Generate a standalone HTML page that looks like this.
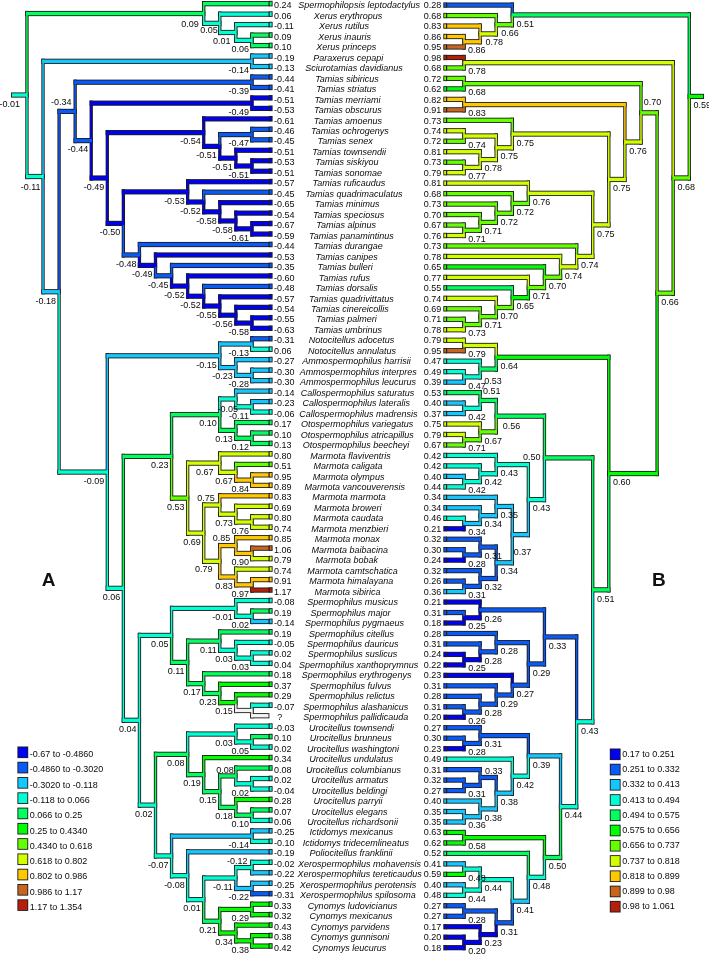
<!DOCTYPE html>
<html lang="en"><head><meta charset="utf-8"><title>Phylogeny trait reconstruction</title>
<style>html,body{margin:0;padding:0;background:#fff}svg{display:block}</style></head>
<body>
<svg width="709" height="956" viewBox="0 0 709 956" font-family="'Liberation Sans', Arial, sans-serif" font-size="9" fill="#0a0a0a">
<rect width="709" height="956" fill="#fff"/>
<g fill="#1c1c1c">
<rect x="250.28" y="32.51" width="3.3" height="7.84"/>
<rect x="250.28" y="32.51" width="19.12" height="5.2"/>
<rect x="268.8" y="32.21" width="3.8" height="5.6"/>
<rect x="250.28" y="40.35" width="3.3" height="7.84"/>
<rect x="250.28" y="42.98" width="19.12" height="5.2"/>
<rect x="268.8" y="42.68" width="3.8" height="5.6"/>
<rect x="234.21" y="22.04" width="3.3" height="10.45"/>
<rect x="234.21" y="22.04" width="35.19" height="5.2"/>
<rect x="268.8" y="21.74" width="3.8" height="5.6"/>
<rect x="234.21" y="32.5" width="3.3" height="10.45"/>
<rect x="234.21" y="37.75" width="19.37" height="5.2"/>
<rect x="218.14" y="11.57" width="3.3" height="11.76"/>
<rect x="218.14" y="11.57" width="51.26" height="5.2"/>
<rect x="268.8" y="11.27" width="3.8" height="5.6"/>
<rect x="218.14" y="23.33" width="3.3" height="11.76"/>
<rect x="218.14" y="29.9" width="19.37" height="5.2"/>
<rect x="202.07" y="1.1" width="3.3" height="12.42"/>
<rect x="202.07" y="1.1" width="67.33" height="5.2"/>
<rect x="268.8" y="0.8" width="3.8" height="5.6"/>
<rect x="202.07" y="13.52" width="3.3" height="12.42"/>
<rect x="202.07" y="20.73" width="19.37" height="5.2"/>
<rect x="250.28" y="53.46" width="3.3" height="7.84"/>
<rect x="250.28" y="53.46" width="19.12" height="5.2"/>
<rect x="268.8" y="53.16" width="3.8" height="5.6"/>
<rect x="250.28" y="61.29" width="3.3" height="7.84"/>
<rect x="250.28" y="63.93" width="19.12" height="5.2"/>
<rect x="268.8" y="63.63" width="3.8" height="5.6"/>
<rect x="250.28" y="74.4" width="3.3" height="7.84"/>
<rect x="250.28" y="74.4" width="19.12" height="5.2"/>
<rect x="268.8" y="74.1" width="3.8" height="5.6"/>
<rect x="250.28" y="82.23" width="3.3" height="7.84"/>
<rect x="250.28" y="84.87" width="19.12" height="5.2"/>
<rect x="268.8" y="84.57" width="3.8" height="5.6"/>
<rect x="250.28" y="95.34" width="3.3" height="7.84"/>
<rect x="250.28" y="95.34" width="19.12" height="5.2"/>
<rect x="268.8" y="95.04" width="3.8" height="5.6"/>
<rect x="250.28" y="103.17" width="3.3" height="7.84"/>
<rect x="250.28" y="105.81" width="19.12" height="5.2"/>
<rect x="268.8" y="105.51" width="3.8" height="5.6"/>
<rect x="250.28" y="126.75" width="3.3" height="7.84"/>
<rect x="250.28" y="126.75" width="19.12" height="5.2"/>
<rect x="268.8" y="126.45" width="3.8" height="5.6"/>
<rect x="250.28" y="134.59" width="3.3" height="7.84"/>
<rect x="250.28" y="137.22" width="19.12" height="5.2"/>
<rect x="268.8" y="136.92" width="3.8" height="5.6"/>
<rect x="250.28" y="158.16" width="3.3" height="7.84"/>
<rect x="250.28" y="158.16" width="19.12" height="5.2"/>
<rect x="268.8" y="157.86" width="3.8" height="5.6"/>
<rect x="250.28" y="166" width="3.3" height="7.84"/>
<rect x="250.28" y="168.64" width="19.12" height="5.2"/>
<rect x="268.8" y="168.34" width="3.8" height="5.6"/>
<rect x="234.21" y="147.69" width="3.3" height="10.45"/>
<rect x="234.21" y="147.69" width="35.19" height="5.2"/>
<rect x="268.8" y="147.39" width="3.8" height="5.6"/>
<rect x="234.21" y="158.15" width="3.3" height="10.45"/>
<rect x="234.21" y="163.4" width="19.37" height="5.2"/>
<rect x="218.14" y="131.99" width="3.3" height="14.38"/>
<rect x="218.14" y="131.99" width="35.44" height="5.2"/>
<rect x="218.14" y="146.37" width="3.3" height="14.38"/>
<rect x="218.14" y="155.55" width="19.37" height="5.2"/>
<rect x="202.07" y="116.28" width="3.3" height="16.34"/>
<rect x="202.07" y="116.28" width="67.33" height="5.2"/>
<rect x="268.8" y="115.98" width="3.8" height="5.6"/>
<rect x="202.07" y="132.62" width="3.3" height="16.34"/>
<rect x="202.07" y="143.77" width="19.37" height="5.2"/>
<rect x="250.28" y="220.99" width="3.3" height="7.84"/>
<rect x="250.28" y="220.99" width="19.12" height="5.2"/>
<rect x="268.8" y="220.69" width="3.8" height="5.6"/>
<rect x="250.28" y="228.83" width="3.3" height="7.84"/>
<rect x="250.28" y="231.46" width="19.12" height="5.2"/>
<rect x="268.8" y="231.16" width="3.8" height="5.6"/>
<rect x="234.21" y="210.52" width="3.3" height="10.45"/>
<rect x="234.21" y="210.52" width="35.19" height="5.2"/>
<rect x="268.8" y="210.22" width="3.8" height="5.6"/>
<rect x="234.21" y="220.97" width="3.3" height="10.45"/>
<rect x="234.21" y="226.23" width="19.37" height="5.2"/>
<rect x="218.14" y="200.05" width="3.3" height="11.76"/>
<rect x="218.14" y="200.05" width="51.26" height="5.2"/>
<rect x="268.8" y="199.75" width="3.8" height="5.6"/>
<rect x="218.14" y="211.81" width="3.3" height="11.76"/>
<rect x="218.14" y="218.37" width="19.37" height="5.2"/>
<rect x="202.07" y="189.58" width="3.3" height="12.42"/>
<rect x="202.07" y="189.58" width="67.33" height="5.2"/>
<rect x="268.8" y="189.28" width="3.8" height="5.6"/>
<rect x="202.07" y="201.99" width="3.3" height="12.42"/>
<rect x="202.07" y="209.21" width="19.37" height="5.2"/>
<rect x="186" y="179.11" width="3.3" height="12.74"/>
<rect x="186" y="179.11" width="83.4" height="5.2"/>
<rect x="268.8" y="178.81" width="3.8" height="5.6"/>
<rect x="186" y="191.85" width="3.3" height="12.74"/>
<rect x="186" y="199.39" width="19.37" height="5.2"/>
<rect x="250.28" y="315.23" width="3.3" height="7.84"/>
<rect x="250.28" y="315.23" width="19.12" height="5.2"/>
<rect x="268.8" y="314.93" width="3.8" height="5.6"/>
<rect x="250.28" y="323.07" width="3.3" height="7.84"/>
<rect x="250.28" y="325.7" width="19.12" height="5.2"/>
<rect x="268.8" y="325.4" width="3.8" height="5.6"/>
<rect x="234.21" y="304.76" width="3.3" height="10.45"/>
<rect x="234.21" y="304.76" width="35.19" height="5.2"/>
<rect x="268.8" y="304.46" width="3.8" height="5.6"/>
<rect x="234.21" y="315.21" width="3.3" height="10.45"/>
<rect x="234.21" y="320.47" width="19.37" height="5.2"/>
<rect x="218.14" y="294.29" width="3.3" height="11.76"/>
<rect x="218.14" y="294.29" width="51.26" height="5.2"/>
<rect x="268.8" y="293.99" width="3.8" height="5.6"/>
<rect x="218.14" y="306.05" width="3.3" height="11.76"/>
<rect x="218.14" y="312.61" width="19.37" height="5.2"/>
<rect x="202.07" y="283.82" width="3.3" height="12.42"/>
<rect x="202.07" y="283.82" width="67.33" height="5.2"/>
<rect x="268.8" y="283.52" width="3.8" height="5.6"/>
<rect x="202.07" y="296.23" width="3.3" height="12.42"/>
<rect x="202.07" y="303.45" width="19.37" height="5.2"/>
<rect x="186" y="273.35" width="3.3" height="12.74"/>
<rect x="186" y="273.35" width="83.4" height="5.2"/>
<rect x="268.8" y="273.05" width="3.8" height="5.6"/>
<rect x="186" y="286.09" width="3.3" height="12.74"/>
<rect x="186" y="293.63" width="19.37" height="5.2"/>
<rect x="169.93" y="262.87" width="3.3" height="12.91"/>
<rect x="169.93" y="262.87" width="99.47" height="5.2"/>
<rect x="268.8" y="262.57" width="3.8" height="5.6"/>
<rect x="169.93" y="275.78" width="3.3" height="12.91"/>
<rect x="169.93" y="283.49" width="19.37" height="5.2"/>
<rect x="153.86" y="252.4" width="3.3" height="12.99"/>
<rect x="153.86" y="252.4" width="115.54" height="5.2"/>
<rect x="268.8" y="252.1" width="3.8" height="5.6"/>
<rect x="153.86" y="265.39" width="3.3" height="12.99"/>
<rect x="153.86" y="273.18" width="19.37" height="5.2"/>
<rect x="137.79" y="241.93" width="3.3" height="13.03"/>
<rect x="137.79" y="241.93" width="131.61" height="5.2"/>
<rect x="268.8" y="241.63" width="3.8" height="5.6"/>
<rect x="137.79" y="254.96" width="3.3" height="13.03"/>
<rect x="137.79" y="262.79" width="19.37" height="5.2"/>
<rect x="121.72" y="189.25" width="3.3" height="34.16"/>
<rect x="121.72" y="189.25" width="67.58" height="5.2"/>
<rect x="121.72" y="223.41" width="3.3" height="34.16"/>
<rect x="121.72" y="252.36" width="19.37" height="5.2"/>
<rect x="105.65" y="130.02" width="3.3" height="47.99"/>
<rect x="105.65" y="130.02" width="99.72" height="5.2"/>
<rect x="105.65" y="178.02" width="3.3" height="47.99"/>
<rect x="105.65" y="220.81" width="19.37" height="5.2"/>
<rect x="89.58" y="100.57" width="3.3" height="40.02"/>
<rect x="89.58" y="100.57" width="164" height="5.2"/>
<rect x="89.58" y="140.6" width="3.3" height="40.02"/>
<rect x="89.58" y="175.42" width="19.37" height="5.2"/>
<rect x="73.51" y="79.63" width="3.3" height="31.78"/>
<rect x="73.51" y="79.63" width="180.07" height="5.2"/>
<rect x="73.51" y="111.41" width="3.3" height="31.78"/>
<rect x="73.51" y="138" width="19.37" height="5.2"/>
<rect x="250.28" y="336.17" width="3.3" height="7.84"/>
<rect x="250.28" y="336.17" width="19.12" height="5.2"/>
<rect x="268.8" y="335.87" width="3.8" height="5.6"/>
<rect x="250.28" y="344.01" width="3.3" height="7.84"/>
<rect x="250.28" y="346.64" width="19.12" height="5.2"/>
<rect x="268.8" y="346.34" width="3.8" height="5.6"/>
<rect x="250.28" y="367.58" width="3.3" height="7.84"/>
<rect x="250.28" y="367.58" width="19.12" height="5.2"/>
<rect x="268.8" y="367.28" width="3.8" height="5.6"/>
<rect x="250.28" y="375.42" width="3.3" height="7.84"/>
<rect x="250.28" y="378.06" width="19.12" height="5.2"/>
<rect x="268.8" y="377.76" width="3.8" height="5.6"/>
<rect x="234.21" y="357.11" width="3.3" height="10.45"/>
<rect x="234.21" y="357.11" width="35.19" height="5.2"/>
<rect x="268.8" y="356.81" width="3.8" height="5.6"/>
<rect x="234.21" y="367.57" width="3.3" height="10.45"/>
<rect x="234.21" y="372.82" width="19.37" height="5.2"/>
<rect x="218.14" y="341.41" width="3.3" height="14.38"/>
<rect x="218.14" y="341.41" width="35.44" height="5.2"/>
<rect x="218.14" y="355.79" width="3.3" height="14.38"/>
<rect x="218.14" y="364.97" width="19.37" height="5.2"/>
<rect x="250.28" y="399" width="3.3" height="7.84"/>
<rect x="250.28" y="399" width="19.12" height="5.2"/>
<rect x="268.8" y="398.7" width="3.8" height="5.6"/>
<rect x="250.28" y="406.83" width="3.3" height="7.84"/>
<rect x="250.28" y="409.47" width="19.12" height="5.2"/>
<rect x="268.8" y="409.17" width="3.8" height="5.6"/>
<rect x="234.21" y="388.53" width="3.3" height="10.45"/>
<rect x="234.21" y="388.53" width="35.19" height="5.2"/>
<rect x="268.8" y="388.23" width="3.8" height="5.6"/>
<rect x="234.21" y="398.98" width="3.3" height="10.45"/>
<rect x="234.21" y="404.23" width="19.37" height="5.2"/>
<rect x="250.28" y="430.41" width="3.3" height="7.84"/>
<rect x="250.28" y="430.41" width="19.12" height="5.2"/>
<rect x="268.8" y="430.11" width="3.8" height="5.6"/>
<rect x="250.28" y="438.25" width="3.3" height="7.84"/>
<rect x="250.28" y="440.88" width="19.12" height="5.2"/>
<rect x="268.8" y="440.58" width="3.8" height="5.6"/>
<rect x="234.21" y="419.94" width="3.3" height="10.45"/>
<rect x="234.21" y="419.94" width="35.19" height="5.2"/>
<rect x="268.8" y="419.64" width="3.8" height="5.6"/>
<rect x="234.21" y="430.39" width="3.3" height="10.45"/>
<rect x="234.21" y="435.65" width="19.37" height="5.2"/>
<rect x="218.14" y="396.38" width="3.3" height="18.31"/>
<rect x="218.14" y="396.38" width="19.37" height="5.2"/>
<rect x="218.14" y="414.69" width="3.3" height="18.31"/>
<rect x="218.14" y="427.79" width="19.37" height="5.2"/>
<rect x="250.28" y="472.29" width="3.3" height="7.84"/>
<rect x="250.28" y="472.29" width="19.12" height="5.2"/>
<rect x="268.8" y="471.99" width="3.8" height="5.6"/>
<rect x="250.28" y="480.13" width="3.3" height="7.84"/>
<rect x="250.28" y="482.77" width="19.12" height="5.2"/>
<rect x="268.8" y="482.47" width="3.8" height="5.6"/>
<rect x="234.21" y="461.82" width="3.3" height="10.45"/>
<rect x="234.21" y="461.82" width="35.19" height="5.2"/>
<rect x="268.8" y="461.52" width="3.8" height="5.6"/>
<rect x="234.21" y="472.28" width="3.3" height="10.45"/>
<rect x="234.21" y="477.53" width="19.37" height="5.2"/>
<rect x="218.14" y="451.35" width="3.3" height="11.76"/>
<rect x="218.14" y="451.35" width="51.26" height="5.2"/>
<rect x="268.8" y="451.05" width="3.8" height="5.6"/>
<rect x="218.14" y="463.12" width="3.3" height="11.76"/>
<rect x="218.14" y="469.68" width="19.37" height="5.2"/>
<rect x="250.28" y="514.18" width="3.3" height="7.84"/>
<rect x="250.28" y="514.18" width="19.12" height="5.2"/>
<rect x="268.8" y="513.88" width="3.8" height="5.6"/>
<rect x="250.28" y="522.01" width="3.3" height="7.84"/>
<rect x="250.28" y="524.65" width="19.12" height="5.2"/>
<rect x="268.8" y="524.35" width="3.8" height="5.6"/>
<rect x="234.21" y="503.71" width="3.3" height="10.45"/>
<rect x="234.21" y="503.71" width="35.19" height="5.2"/>
<rect x="268.8" y="503.41" width="3.8" height="5.6"/>
<rect x="234.21" y="514.16" width="3.3" height="10.45"/>
<rect x="234.21" y="519.41" width="19.37" height="5.2"/>
<rect x="218.14" y="493.24" width="3.3" height="11.76"/>
<rect x="218.14" y="493.24" width="51.26" height="5.2"/>
<rect x="268.8" y="492.94" width="3.8" height="5.6"/>
<rect x="218.14" y="505" width="3.3" height="11.76"/>
<rect x="218.14" y="511.56" width="19.37" height="5.2"/>
<rect x="250.28" y="545.59" width="3.3" height="7.84"/>
<rect x="250.28" y="545.59" width="19.12" height="5.2"/>
<rect x="268.8" y="545.29" width="3.8" height="5.6"/>
<rect x="250.28" y="553.43" width="3.3" height="7.84"/>
<rect x="250.28" y="556.06" width="19.12" height="5.2"/>
<rect x="268.8" y="555.76" width="3.8" height="5.6"/>
<rect x="234.21" y="535.12" width="3.3" height="10.45"/>
<rect x="234.21" y="535.12" width="35.19" height="5.2"/>
<rect x="268.8" y="534.82" width="3.8" height="5.6"/>
<rect x="234.21" y="545.57" width="3.3" height="10.45"/>
<rect x="234.21" y="550.83" width="19.37" height="5.2"/>
<rect x="250.28" y="577" width="3.3" height="7.84"/>
<rect x="250.28" y="577" width="19.12" height="5.2"/>
<rect x="268.8" y="576.71" width="3.8" height="5.6"/>
<rect x="250.28" y="584.84" width="3.3" height="7.84"/>
<rect x="250.28" y="587.48" width="19.12" height="5.2"/>
<rect x="268.8" y="587.18" width="3.8" height="5.6"/>
<rect x="234.21" y="566.53" width="3.3" height="10.45"/>
<rect x="234.21" y="566.53" width="35.19" height="5.2"/>
<rect x="268.8" y="566.23" width="3.8" height="5.6"/>
<rect x="234.21" y="576.99" width="3.3" height="10.45"/>
<rect x="234.21" y="582.24" width="19.37" height="5.2"/>
<rect x="218.14" y="542.97" width="3.3" height="18.31"/>
<rect x="218.14" y="542.97" width="19.37" height="5.2"/>
<rect x="218.14" y="561.28" width="3.3" height="18.31"/>
<rect x="218.14" y="574.39" width="19.37" height="5.2"/>
<rect x="202.07" y="502.4" width="3.3" height="30.74"/>
<rect x="202.07" y="502.4" width="19.37" height="5.2"/>
<rect x="202.07" y="533.14" width="3.3" height="30.74"/>
<rect x="202.07" y="558.68" width="19.37" height="5.2"/>
<rect x="186" y="460.52" width="3.3" height="37.61"/>
<rect x="186" y="460.52" width="35.44" height="5.2"/>
<rect x="186" y="498.13" width="3.3" height="37.61"/>
<rect x="186" y="530.54" width="19.37" height="5.2"/>
<rect x="169.93" y="412.09" width="3.3" height="44.32"/>
<rect x="169.93" y="412.09" width="51.51" height="5.2"/>
<rect x="169.93" y="456.41" width="3.3" height="44.32"/>
<rect x="169.93" y="495.53" width="19.37" height="5.2"/>
<rect x="250.28" y="608.42" width="3.3" height="7.84"/>
<rect x="250.28" y="608.42" width="19.12" height="5.2"/>
<rect x="268.8" y="608.12" width="3.8" height="5.6"/>
<rect x="250.28" y="616.25" width="3.3" height="7.84"/>
<rect x="250.28" y="618.89" width="19.12" height="5.2"/>
<rect x="268.8" y="618.59" width="3.8" height="5.6"/>
<rect x="234.21" y="597.95" width="3.3" height="10.45"/>
<rect x="234.21" y="597.95" width="35.19" height="5.2"/>
<rect x="268.8" y="597.65" width="3.8" height="5.6"/>
<rect x="234.21" y="608.4" width="3.3" height="10.45"/>
<rect x="234.21" y="613.65" width="19.37" height="5.2"/>
<rect x="250.28" y="650.3" width="3.3" height="7.84"/>
<rect x="250.28" y="650.3" width="19.12" height="5.2"/>
<rect x="268.8" y="650" width="3.8" height="5.6"/>
<rect x="250.28" y="658.14" width="3.3" height="7.84"/>
<rect x="250.28" y="660.77" width="19.12" height="5.2"/>
<rect x="268.8" y="660.47" width="3.8" height="5.6"/>
<rect x="234.21" y="639.83" width="3.3" height="10.45"/>
<rect x="234.21" y="639.83" width="35.19" height="5.2"/>
<rect x="268.8" y="639.53" width="3.8" height="5.6"/>
<rect x="234.21" y="650.28" width="3.3" height="10.45"/>
<rect x="234.21" y="655.54" width="19.37" height="5.2"/>
<rect x="218.14" y="629.36" width="3.3" height="11.76"/>
<rect x="218.14" y="629.36" width="51.26" height="5.2"/>
<rect x="268.8" y="629.06" width="3.8" height="5.6"/>
<rect x="218.14" y="641.12" width="3.3" height="11.76"/>
<rect x="218.14" y="647.68" width="19.37" height="5.2"/>
<rect x="250.28" y="702.66" width="3.3" height="7.84"/>
<rect x="250.28" y="702.66" width="19.12" height="5.2"/>
<rect x="268.8" y="702.36" width="3.8" height="5.6"/>
<rect x="250.28" y="710.49" width="3.3" height="7.84"/>
<rect x="250.28" y="713.13" width="19.12" height="5.2"/>
<rect x="234.21" y="692.19" width="3.3" height="10.45"/>
<rect x="234.21" y="692.19" width="35.19" height="5.2"/>
<rect x="268.8" y="691.89" width="3.8" height="5.6"/>
<rect x="234.21" y="702.64" width="3.3" height="10.45"/>
<rect x="234.21" y="707.89" width="19.37" height="5.2"/>
<rect x="218.14" y="681.72" width="3.3" height="11.76"/>
<rect x="218.14" y="681.72" width="51.26" height="5.2"/>
<rect x="268.8" y="681.42" width="3.8" height="5.6"/>
<rect x="218.14" y="693.48" width="3.3" height="11.76"/>
<rect x="218.14" y="700.04" width="19.37" height="5.2"/>
<rect x="202.07" y="671.24" width="3.3" height="12.42"/>
<rect x="202.07" y="671.24" width="67.33" height="5.2"/>
<rect x="268.8" y="670.94" width="3.8" height="5.6"/>
<rect x="202.07" y="683.66" width="3.3" height="12.42"/>
<rect x="202.07" y="690.88" width="19.37" height="5.2"/>
<rect x="186" y="638.52" width="3.3" height="23.87"/>
<rect x="186" y="638.52" width="35.44" height="5.2"/>
<rect x="186" y="662.39" width="3.3" height="23.87"/>
<rect x="186" y="681.06" width="19.37" height="5.2"/>
<rect x="169.93" y="605.8" width="3.3" height="29.6"/>
<rect x="169.93" y="605.8" width="67.58" height="5.2"/>
<rect x="169.93" y="635.4" width="3.3" height="29.6"/>
<rect x="169.93" y="659.79" width="19.37" height="5.2"/>
<rect x="250.28" y="734.07" width="3.3" height="7.84"/>
<rect x="250.28" y="734.07" width="19.12" height="5.2"/>
<rect x="268.8" y="733.77" width="3.8" height="5.6"/>
<rect x="250.28" y="741.91" width="3.3" height="7.84"/>
<rect x="250.28" y="744.54" width="19.12" height="5.2"/>
<rect x="268.8" y="744.24" width="3.8" height="5.6"/>
<rect x="234.21" y="723.6" width="3.3" height="10.45"/>
<rect x="234.21" y="723.6" width="35.19" height="5.2"/>
<rect x="268.8" y="723.3" width="3.8" height="5.6"/>
<rect x="234.21" y="734.05" width="3.3" height="10.45"/>
<rect x="234.21" y="739.31" width="19.37" height="5.2"/>
<rect x="250.28" y="775.95" width="3.3" height="7.84"/>
<rect x="250.28" y="775.95" width="19.12" height="5.2"/>
<rect x="268.8" y="775.65" width="3.8" height="5.6"/>
<rect x="250.28" y="783.79" width="3.3" height="7.84"/>
<rect x="250.28" y="786.43" width="19.12" height="5.2"/>
<rect x="268.8" y="786.13" width="3.8" height="5.6"/>
<rect x="234.21" y="765.48" width="3.3" height="10.45"/>
<rect x="234.21" y="765.48" width="35.19" height="5.2"/>
<rect x="268.8" y="765.18" width="3.8" height="5.6"/>
<rect x="234.21" y="775.94" width="3.3" height="10.45"/>
<rect x="234.21" y="781.19" width="19.37" height="5.2"/>
<rect x="250.28" y="807.37" width="3.3" height="7.84"/>
<rect x="250.28" y="807.37" width="19.12" height="5.2"/>
<rect x="268.8" y="807.07" width="3.8" height="5.6"/>
<rect x="250.28" y="815.2" width="3.3" height="7.84"/>
<rect x="250.28" y="817.84" width="19.12" height="5.2"/>
<rect x="268.8" y="817.54" width="3.8" height="5.6"/>
<rect x="234.21" y="796.9" width="3.3" height="10.45"/>
<rect x="234.21" y="796.9" width="35.19" height="5.2"/>
<rect x="268.8" y="796.6" width="3.8" height="5.6"/>
<rect x="234.21" y="807.35" width="3.3" height="10.45"/>
<rect x="234.21" y="812.6" width="19.37" height="5.2"/>
<rect x="218.14" y="773.34" width="3.3" height="18.31"/>
<rect x="218.14" y="773.34" width="19.37" height="5.2"/>
<rect x="218.14" y="791.64" width="3.3" height="18.31"/>
<rect x="218.14" y="804.75" width="19.37" height="5.2"/>
<rect x="202.07" y="755.01" width="3.3" height="19.62"/>
<rect x="202.07" y="755.01" width="67.33" height="5.2"/>
<rect x="268.8" y="754.71" width="3.8" height="5.6"/>
<rect x="202.07" y="774.63" width="3.3" height="19.62"/>
<rect x="202.07" y="789.04" width="19.37" height="5.2"/>
<rect x="186" y="731.45" width="3.3" height="22.89"/>
<rect x="186" y="731.45" width="51.51" height="5.2"/>
<rect x="186" y="754.34" width="3.3" height="22.89"/>
<rect x="186" y="772.03" width="19.37" height="5.2"/>
<rect x="250.28" y="828.31" width="3.3" height="7.84"/>
<rect x="250.28" y="828.31" width="19.12" height="5.2"/>
<rect x="268.8" y="828.01" width="3.8" height="5.6"/>
<rect x="250.28" y="836.14" width="3.3" height="7.84"/>
<rect x="250.28" y="838.78" width="19.12" height="5.2"/>
<rect x="268.8" y="838.48" width="3.8" height="5.6"/>
<rect x="250.28" y="859.72" width="3.3" height="7.84"/>
<rect x="250.28" y="859.72" width="19.12" height="5.2"/>
<rect x="268.8" y="859.42" width="3.8" height="5.6"/>
<rect x="250.28" y="867.56" width="3.3" height="7.84"/>
<rect x="250.28" y="870.19" width="19.12" height="5.2"/>
<rect x="268.8" y="869.89" width="3.8" height="5.6"/>
<rect x="250.28" y="880.66" width="3.3" height="7.84"/>
<rect x="250.28" y="880.66" width="19.12" height="5.2"/>
<rect x="268.8" y="880.36" width="3.8" height="5.6"/>
<rect x="250.28" y="888.5" width="3.3" height="7.84"/>
<rect x="250.28" y="891.13" width="19.12" height="5.2"/>
<rect x="268.8" y="890.84" width="3.8" height="5.6"/>
<rect x="234.21" y="864.96" width="3.3" height="13.07"/>
<rect x="234.21" y="864.96" width="19.37" height="5.2"/>
<rect x="234.21" y="878.03" width="3.3" height="13.07"/>
<rect x="234.21" y="885.9" width="19.37" height="5.2"/>
<rect x="250.28" y="901.61" width="3.3" height="7.84"/>
<rect x="250.28" y="901.61" width="19.12" height="5.2"/>
<rect x="268.8" y="901.31" width="3.8" height="5.6"/>
<rect x="250.28" y="909.44" width="3.3" height="7.84"/>
<rect x="250.28" y="912.08" width="19.12" height="5.2"/>
<rect x="268.8" y="911.78" width="3.8" height="5.6"/>
<rect x="250.28" y="933.02" width="3.3" height="7.84"/>
<rect x="250.28" y="933.02" width="19.12" height="5.2"/>
<rect x="268.8" y="932.72" width="3.8" height="5.6"/>
<rect x="250.28" y="940.85" width="3.3" height="7.84"/>
<rect x="250.28" y="943.49" width="19.12" height="5.2"/>
<rect x="268.8" y="943.19" width="3.8" height="5.6"/>
<rect x="234.21" y="922.55" width="3.3" height="10.45"/>
<rect x="234.21" y="922.55" width="35.19" height="5.2"/>
<rect x="268.8" y="922.25" width="3.8" height="5.6"/>
<rect x="234.21" y="933" width="3.3" height="10.45"/>
<rect x="234.21" y="938.25" width="19.37" height="5.2"/>
<rect x="218.14" y="906.84" width="3.3" height="14.38"/>
<rect x="218.14" y="906.84" width="35.44" height="5.2"/>
<rect x="218.14" y="921.22" width="3.3" height="14.38"/>
<rect x="218.14" y="930.4" width="19.37" height="5.2"/>
<rect x="202.07" y="875.43" width="3.3" height="24.2"/>
<rect x="202.07" y="875.43" width="35.44" height="5.2"/>
<rect x="202.07" y="899.62" width="3.3" height="24.2"/>
<rect x="202.07" y="918.62" width="19.37" height="5.2"/>
<rect x="186" y="849.25" width="3.3" height="26.49"/>
<rect x="186" y="849.25" width="83.4" height="5.2"/>
<rect x="268.8" y="848.95" width="3.8" height="5.6"/>
<rect x="186" y="875.74" width="3.3" height="26.49"/>
<rect x="186" y="897.02" width="19.37" height="5.2"/>
<rect x="169.93" y="833.54" width="3.3" height="22.4"/>
<rect x="169.93" y="833.54" width="83.65" height="5.2"/>
<rect x="169.93" y="855.94" width="3.3" height="22.4"/>
<rect x="169.93" y="873.14" width="19.37" height="5.2"/>
<rect x="153.86" y="751.74" width="3.3" height="53.4"/>
<rect x="153.86" y="751.74" width="35.44" height="5.2"/>
<rect x="153.86" y="805.14" width="3.3" height="53.4"/>
<rect x="153.86" y="853.34" width="19.37" height="5.2"/>
<rect x="137.79" y="632.8" width="3.3" height="87.47"/>
<rect x="137.79" y="632.8" width="35.44" height="5.2"/>
<rect x="137.79" y="720.27" width="3.3" height="87.47"/>
<rect x="137.79" y="802.54" width="19.37" height="5.2"/>
<rect x="121.72" y="453.81" width="3.3" height="134.53"/>
<rect x="121.72" y="453.81" width="51.51" height="5.2"/>
<rect x="121.72" y="588.34" width="3.3" height="134.53"/>
<rect x="121.72" y="717.67" width="19.37" height="5.2"/>
<rect x="105.65" y="353.19" width="3.3" height="118.88"/>
<rect x="105.65" y="353.19" width="115.79" height="5.2"/>
<rect x="105.65" y="472.06" width="3.3" height="118.88"/>
<rect x="105.65" y="585.74" width="19.37" height="5.2"/>
<rect x="57.44" y="108.81" width="3.3" height="182.92"/>
<rect x="57.44" y="108.81" width="19.37" height="5.2"/>
<rect x="57.44" y="291.74" width="3.3" height="182.92"/>
<rect x="57.44" y="469.46" width="51.51" height="5.2"/>
<rect x="41.37" y="58.69" width="3.3" height="117.82"/>
<rect x="41.37" y="58.69" width="212.21" height="5.2"/>
<rect x="41.37" y="176.51" width="3.3" height="117.82"/>
<rect x="41.37" y="289.14" width="19.37" height="5.2"/>
<rect x="25.3" y="10.92" width="3.3" height="84.1"/>
<rect x="25.3" y="10.92" width="180.07" height="5.2"/>
<rect x="25.3" y="95.02" width="3.3" height="84.1"/>
<rect x="25.3" y="173.91" width="19.37" height="5.2"/>
<rect x="11" y="92.42" width="17.6" height="5.2"/>
</g><g>
<rect x="251.18" y="33.41" width="1.5" height="6.04" fill="#00ff5f"/>
<rect x="251.18" y="33.41" width="17.32" height="3.4" fill="#00ff5f"/>
<rect x="269.7" y="33.11" width="2" height="3.8" fill="#00ff5f"/>
<rect x="251.18" y="41.25" width="1.5" height="6.04" fill="#00ff5f"/>
<rect x="251.18" y="43.88" width="17.32" height="3.4" fill="#00ff5f"/>
<rect x="269.7" y="43.58" width="2" height="3.8" fill="#00ff5f"/>
<rect x="235.11" y="22.94" width="1.5" height="8.65" fill="#00ffd2"/>
<rect x="235.11" y="22.94" width="33.39" height="3.4" fill="#00ffd2"/>
<rect x="269.7" y="22.64" width="2" height="3.8" fill="#00ffd2"/>
<rect x="235.11" y="33.4" width="1.5" height="8.65" fill="#00ffd2"/>
<rect x="235.11" y="38.65" width="17.57" height="3.4" fill="#00ffd2"/>
<rect x="219.04" y="12.47" width="1.5" height="9.96" fill="#00ffd2"/>
<rect x="219.04" y="12.47" width="49.46" height="3.4" fill="#00ffd2"/>
<rect x="269.7" y="12.17" width="2" height="3.8" fill="#00ffd2"/>
<rect x="219.04" y="24.23" width="1.5" height="9.96" fill="#00ffd2"/>
<rect x="219.04" y="30.8" width="17.57" height="3.4" fill="#00ffd2"/>
<rect x="202.97" y="2" width="1.5" height="10.62" fill="#00ff5f"/>
<rect x="202.97" y="2" width="65.53" height="3.4" fill="#00ff5f"/>
<rect x="269.7" y="1.7" width="2" height="3.8" fill="#00ff5f"/>
<rect x="202.97" y="14.42" width="1.5" height="10.62" fill="#00ffd2"/>
<rect x="202.97" y="21.63" width="17.57" height="3.4" fill="#00ffd2"/>
<rect x="251.18" y="54.36" width="1.5" height="6.04" fill="#14c8ff"/>
<rect x="251.18" y="54.36" width="17.32" height="3.4" fill="#14c8ff"/>
<rect x="269.7" y="54.06" width="2" height="3.8" fill="#14c8ff"/>
<rect x="251.18" y="62.19" width="1.5" height="6.04" fill="#14c8ff"/>
<rect x="251.18" y="64.83" width="17.32" height="3.4" fill="#14c8ff"/>
<rect x="269.7" y="64.53" width="2" height="3.8" fill="#14c8ff"/>
<rect x="251.18" y="75.3" width="1.5" height="6.04" fill="#0a5af8"/>
<rect x="251.18" y="75.3" width="17.32" height="3.4" fill="#0a5af8"/>
<rect x="269.7" y="75" width="2" height="3.8" fill="#0a5af8"/>
<rect x="251.18" y="83.13" width="1.5" height="6.04" fill="#0a5af8"/>
<rect x="251.18" y="85.77" width="17.32" height="3.4" fill="#0a5af8"/>
<rect x="269.7" y="85.47" width="2" height="3.8" fill="#0a5af8"/>
<rect x="251.18" y="96.24" width="1.5" height="6.04" fill="#0000f5"/>
<rect x="251.18" y="96.24" width="17.32" height="3.4" fill="#0000f5"/>
<rect x="269.7" y="95.94" width="2" height="3.8" fill="#0000f5"/>
<rect x="251.18" y="104.07" width="1.5" height="6.04" fill="#0000f5"/>
<rect x="251.18" y="106.71" width="17.32" height="3.4" fill="#0000f5"/>
<rect x="269.7" y="106.41" width="2" height="3.8" fill="#0000f5"/>
<rect x="251.18" y="127.65" width="1.5" height="6.04" fill="#0a5af8"/>
<rect x="251.18" y="127.65" width="17.32" height="3.4" fill="#0a5af8"/>
<rect x="269.7" y="127.35" width="2" height="3.8" fill="#0a5af8"/>
<rect x="251.18" y="135.49" width="1.5" height="6.04" fill="#0a5af8"/>
<rect x="251.18" y="138.12" width="17.32" height="3.4" fill="#0a5af8"/>
<rect x="269.7" y="137.82" width="2" height="3.8" fill="#0a5af8"/>
<rect x="251.18" y="159.06" width="1.5" height="6.04" fill="#0000f5"/>
<rect x="251.18" y="159.06" width="17.32" height="3.4" fill="#0000f5"/>
<rect x="269.7" y="158.76" width="2" height="3.8" fill="#0000f5"/>
<rect x="251.18" y="166.9" width="1.5" height="6.04" fill="#0000f5"/>
<rect x="251.18" y="169.54" width="17.32" height="3.4" fill="#0000f5"/>
<rect x="269.7" y="169.24" width="2" height="3.8" fill="#0000f5"/>
<rect x="235.11" y="148.59" width="1.5" height="8.65" fill="#0000f5"/>
<rect x="235.11" y="148.59" width="33.39" height="3.4" fill="#0000f5"/>
<rect x="269.7" y="148.29" width="2" height="3.8" fill="#0000f5"/>
<rect x="235.11" y="159.05" width="1.5" height="8.65" fill="#0000f5"/>
<rect x="235.11" y="164.3" width="17.57" height="3.4" fill="#0000f5"/>
<rect x="219.04" y="132.89" width="1.5" height="12.58" fill="#0a5af8"/>
<rect x="219.04" y="132.89" width="33.64" height="3.4" fill="#0a5af8"/>
<rect x="219.04" y="147.27" width="1.5" height="12.58" fill="#0000f5"/>
<rect x="219.04" y="156.45" width="17.57" height="3.4" fill="#0000f5"/>
<rect x="202.97" y="117.18" width="1.5" height="14.54" fill="#0000f5"/>
<rect x="202.97" y="117.18" width="65.53" height="3.4" fill="#0000f5"/>
<rect x="269.7" y="116.88" width="2" height="3.8" fill="#0000f5"/>
<rect x="202.97" y="133.52" width="1.5" height="14.54" fill="#0000f5"/>
<rect x="202.97" y="144.67" width="17.57" height="3.4" fill="#0000f5"/>
<rect x="251.18" y="221.89" width="1.5" height="6.04" fill="#0000f5"/>
<rect x="251.18" y="221.89" width="17.32" height="3.4" fill="#0000f5"/>
<rect x="269.7" y="221.59" width="2" height="3.8" fill="#0000f5"/>
<rect x="251.18" y="229.73" width="1.5" height="6.04" fill="#0000f5"/>
<rect x="251.18" y="232.36" width="17.32" height="3.4" fill="#0000f5"/>
<rect x="269.7" y="232.06" width="2" height="3.8" fill="#0000f5"/>
<rect x="235.11" y="211.42" width="1.5" height="8.65" fill="#0000f5"/>
<rect x="235.11" y="211.42" width="33.39" height="3.4" fill="#0000f5"/>
<rect x="269.7" y="211.12" width="2" height="3.8" fill="#0000f5"/>
<rect x="235.11" y="221.87" width="1.5" height="8.65" fill="#0000f5"/>
<rect x="235.11" y="227.13" width="17.57" height="3.4" fill="#0000f5"/>
<rect x="219.04" y="200.95" width="1.5" height="9.96" fill="#0000f5"/>
<rect x="219.04" y="200.95" width="49.46" height="3.4" fill="#0000f5"/>
<rect x="269.7" y="200.65" width="2" height="3.8" fill="#0000f5"/>
<rect x="219.04" y="212.71" width="1.5" height="9.96" fill="#0000f5"/>
<rect x="219.04" y="219.27" width="17.57" height="3.4" fill="#0000f5"/>
<rect x="202.97" y="190.48" width="1.5" height="10.62" fill="#0a5af8"/>
<rect x="202.97" y="190.48" width="65.53" height="3.4" fill="#0a5af8"/>
<rect x="269.7" y="190.18" width="2" height="3.8" fill="#0a5af8"/>
<rect x="202.97" y="202.89" width="1.5" height="10.62" fill="#0000f5"/>
<rect x="202.97" y="210.11" width="17.57" height="3.4" fill="#0000f5"/>
<rect x="186.9" y="180.01" width="1.5" height="10.94" fill="#0000f5"/>
<rect x="186.9" y="180.01" width="81.6" height="3.4" fill="#0000f5"/>
<rect x="269.7" y="179.71" width="2" height="3.8" fill="#0000f5"/>
<rect x="186.9" y="192.75" width="1.5" height="10.94" fill="#0000f5"/>
<rect x="186.9" y="200.29" width="17.57" height="3.4" fill="#0000f5"/>
<rect x="251.18" y="316.13" width="1.5" height="6.04" fill="#0000f5"/>
<rect x="251.18" y="316.13" width="17.32" height="3.4" fill="#0000f5"/>
<rect x="269.7" y="315.83" width="2" height="3.8" fill="#0000f5"/>
<rect x="251.18" y="323.97" width="1.5" height="6.04" fill="#0000f5"/>
<rect x="251.18" y="326.6" width="17.32" height="3.4" fill="#0000f5"/>
<rect x="269.7" y="326.3" width="2" height="3.8" fill="#0000f5"/>
<rect x="235.11" y="305.66" width="1.5" height="8.65" fill="#0000f5"/>
<rect x="235.11" y="305.66" width="33.39" height="3.4" fill="#0000f5"/>
<rect x="269.7" y="305.36" width="2" height="3.8" fill="#0000f5"/>
<rect x="235.11" y="316.11" width="1.5" height="8.65" fill="#0000f5"/>
<rect x="235.11" y="321.37" width="17.57" height="3.4" fill="#0000f5"/>
<rect x="219.04" y="295.19" width="1.5" height="9.96" fill="#0000f5"/>
<rect x="219.04" y="295.19" width="49.46" height="3.4" fill="#0000f5"/>
<rect x="269.7" y="294.89" width="2" height="3.8" fill="#0000f5"/>
<rect x="219.04" y="306.95" width="1.5" height="9.96" fill="#0000f5"/>
<rect x="219.04" y="313.51" width="17.57" height="3.4" fill="#0000f5"/>
<rect x="202.97" y="284.72" width="1.5" height="10.62" fill="#0a5af8"/>
<rect x="202.97" y="284.72" width="65.53" height="3.4" fill="#0a5af8"/>
<rect x="269.7" y="284.42" width="2" height="3.8" fill="#0a5af8"/>
<rect x="202.97" y="297.13" width="1.5" height="10.62" fill="#0000f5"/>
<rect x="202.97" y="304.35" width="17.57" height="3.4" fill="#0000f5"/>
<rect x="186.9" y="274.25" width="1.5" height="10.94" fill="#0000f5"/>
<rect x="186.9" y="274.25" width="81.6" height="3.4" fill="#0000f5"/>
<rect x="269.7" y="273.95" width="2" height="3.8" fill="#0000f5"/>
<rect x="186.9" y="286.99" width="1.5" height="10.94" fill="#0000f5"/>
<rect x="186.9" y="294.53" width="17.57" height="3.4" fill="#0000f5"/>
<rect x="170.83" y="263.77" width="1.5" height="11.11" fill="#0a5af8"/>
<rect x="170.83" y="263.77" width="97.67" height="3.4" fill="#0a5af8"/>
<rect x="269.7" y="263.47" width="2" height="3.8" fill="#0a5af8"/>
<rect x="170.83" y="276.68" width="1.5" height="11.11" fill="#0000f5"/>
<rect x="170.83" y="284.39" width="17.57" height="3.4" fill="#0000f5"/>
<rect x="154.76" y="253.3" width="1.5" height="11.19" fill="#0000f5"/>
<rect x="154.76" y="253.3" width="113.74" height="3.4" fill="#0000f5"/>
<rect x="269.7" y="253" width="2" height="3.8" fill="#0000f5"/>
<rect x="154.76" y="266.29" width="1.5" height="11.19" fill="#0a5af8"/>
<rect x="154.76" y="274.08" width="17.57" height="3.4" fill="#0a5af8"/>
<rect x="138.69" y="242.83" width="1.5" height="11.23" fill="#0a5af8"/>
<rect x="138.69" y="242.83" width="129.81" height="3.4" fill="#0a5af8"/>
<rect x="269.7" y="242.53" width="2" height="3.8" fill="#0a5af8"/>
<rect x="138.69" y="255.86" width="1.5" height="11.23" fill="#0000f5"/>
<rect x="138.69" y="263.69" width="17.57" height="3.4" fill="#0000f5"/>
<rect x="122.62" y="190.15" width="1.5" height="32.36" fill="#0000f5"/>
<rect x="122.62" y="190.15" width="65.78" height="3.4" fill="#0000f5"/>
<rect x="122.62" y="224.31" width="1.5" height="32.36" fill="#0a5af8"/>
<rect x="122.62" y="253.26" width="17.57" height="3.4" fill="#0a5af8"/>
<rect x="106.55" y="130.92" width="1.5" height="46.19" fill="#0000f5"/>
<rect x="106.55" y="130.92" width="97.92" height="3.4" fill="#0000f5"/>
<rect x="106.55" y="178.92" width="1.5" height="46.19" fill="#0000f5"/>
<rect x="106.55" y="221.71" width="17.57" height="3.4" fill="#0000f5"/>
<rect x="90.48" y="101.47" width="1.5" height="38.22" fill="#0000f5"/>
<rect x="90.48" y="101.47" width="162.2" height="3.4" fill="#0000f5"/>
<rect x="90.48" y="141.5" width="1.5" height="38.22" fill="#0000f5"/>
<rect x="90.48" y="176.32" width="17.57" height="3.4" fill="#0000f5"/>
<rect x="74.41" y="80.53" width="1.5" height="29.98" fill="#0a5af8"/>
<rect x="74.41" y="80.53" width="178.27" height="3.4" fill="#0a5af8"/>
<rect x="74.41" y="112.31" width="1.5" height="29.98" fill="#0a5af8"/>
<rect x="74.41" y="138.9" width="17.57" height="3.4" fill="#0a5af8"/>
<rect x="251.18" y="337.07" width="1.5" height="6.04" fill="#0a5af8"/>
<rect x="251.18" y="337.07" width="17.32" height="3.4" fill="#0a5af8"/>
<rect x="269.7" y="336.77" width="2" height="3.8" fill="#0a5af8"/>
<rect x="251.18" y="344.91" width="1.5" height="6.04" fill="#00ffd2"/>
<rect x="251.18" y="347.54" width="17.32" height="3.4" fill="#00ffd2"/>
<rect x="269.7" y="347.24" width="2" height="3.8" fill="#00ffd2"/>
<rect x="251.18" y="368.48" width="1.5" height="6.04" fill="#14c8ff"/>
<rect x="251.18" y="368.48" width="17.32" height="3.4" fill="#14c8ff"/>
<rect x="269.7" y="368.18" width="2" height="3.8" fill="#14c8ff"/>
<rect x="251.18" y="376.32" width="1.5" height="6.04" fill="#14c8ff"/>
<rect x="251.18" y="378.96" width="17.32" height="3.4" fill="#14c8ff"/>
<rect x="269.7" y="378.66" width="2" height="3.8" fill="#14c8ff"/>
<rect x="235.11" y="358.01" width="1.5" height="8.65" fill="#14c8ff"/>
<rect x="235.11" y="358.01" width="33.39" height="3.4" fill="#14c8ff"/>
<rect x="269.7" y="357.71" width="2" height="3.8" fill="#14c8ff"/>
<rect x="235.11" y="368.47" width="1.5" height="8.65" fill="#14c8ff"/>
<rect x="235.11" y="373.72" width="17.57" height="3.4" fill="#14c8ff"/>
<rect x="219.04" y="342.31" width="1.5" height="12.58" fill="#14c8ff"/>
<rect x="219.04" y="342.31" width="33.64" height="3.4" fill="#14c8ff"/>
<rect x="219.04" y="356.69" width="1.5" height="12.58" fill="#14c8ff"/>
<rect x="219.04" y="365.87" width="17.57" height="3.4" fill="#14c8ff"/>
<rect x="251.18" y="399.9" width="1.5" height="6.04" fill="#14c8ff"/>
<rect x="251.18" y="399.9" width="17.32" height="3.4" fill="#14c8ff"/>
<rect x="269.7" y="399.6" width="2" height="3.8" fill="#14c8ff"/>
<rect x="251.18" y="407.73" width="1.5" height="6.04" fill="#00ffd2"/>
<rect x="251.18" y="410.37" width="17.32" height="3.4" fill="#00ffd2"/>
<rect x="269.7" y="410.07" width="2" height="3.8" fill="#00ffd2"/>
<rect x="235.11" y="389.43" width="1.5" height="8.65" fill="#14c8ff"/>
<rect x="235.11" y="389.43" width="33.39" height="3.4" fill="#14c8ff"/>
<rect x="269.7" y="389.13" width="2" height="3.8" fill="#14c8ff"/>
<rect x="235.11" y="399.88" width="1.5" height="8.65" fill="#00ffd2"/>
<rect x="235.11" y="405.13" width="17.57" height="3.4" fill="#00ffd2"/>
<rect x="251.18" y="431.31" width="1.5" height="6.04" fill="#00ff5f"/>
<rect x="251.18" y="431.31" width="17.32" height="3.4" fill="#00ff5f"/>
<rect x="269.7" y="431.01" width="2" height="3.8" fill="#00ff5f"/>
<rect x="251.18" y="439.15" width="1.5" height="6.04" fill="#00ff5f"/>
<rect x="251.18" y="441.78" width="17.32" height="3.4" fill="#00ff5f"/>
<rect x="269.7" y="441.48" width="2" height="3.8" fill="#00ff5f"/>
<rect x="235.11" y="420.84" width="1.5" height="8.65" fill="#00ff5f"/>
<rect x="235.11" y="420.84" width="33.39" height="3.4" fill="#00ff5f"/>
<rect x="269.7" y="420.54" width="2" height="3.8" fill="#00ff5f"/>
<rect x="235.11" y="431.29" width="1.5" height="8.65" fill="#00ff5f"/>
<rect x="235.11" y="436.55" width="17.57" height="3.4" fill="#00ff5f"/>
<rect x="219.04" y="397.28" width="1.5" height="16.51" fill="#00ffd2"/>
<rect x="219.04" y="397.28" width="17.57" height="3.4" fill="#00ffd2"/>
<rect x="219.04" y="415.59" width="1.5" height="16.51" fill="#00ff5f"/>
<rect x="219.04" y="428.69" width="17.57" height="3.4" fill="#00ff5f"/>
<rect x="251.18" y="473.19" width="1.5" height="6.04" fill="#ffc800"/>
<rect x="251.18" y="473.19" width="17.32" height="3.4" fill="#ffc800"/>
<rect x="269.7" y="472.89" width="2" height="3.8" fill="#ffc800"/>
<rect x="251.18" y="481.03" width="1.5" height="6.04" fill="#ffc800"/>
<rect x="251.18" y="483.67" width="17.32" height="3.4" fill="#ffc800"/>
<rect x="269.7" y="483.37" width="2" height="3.8" fill="#ffc800"/>
<rect x="235.11" y="462.72" width="1.5" height="8.65" fill="#64ff00"/>
<rect x="235.11" y="462.72" width="33.39" height="3.4" fill="#64ff00"/>
<rect x="269.7" y="462.42" width="2" height="3.8" fill="#64ff00"/>
<rect x="235.11" y="473.18" width="1.5" height="8.65" fill="#ffc800"/>
<rect x="235.11" y="478.43" width="17.57" height="3.4" fill="#ffc800"/>
<rect x="219.04" y="452.25" width="1.5" height="9.96" fill="#d2ff00"/>
<rect x="219.04" y="452.25" width="49.46" height="3.4" fill="#d2ff00"/>
<rect x="269.7" y="451.95" width="2" height="3.8" fill="#d2ff00"/>
<rect x="219.04" y="464.02" width="1.5" height="9.96" fill="#d2ff00"/>
<rect x="219.04" y="470.58" width="17.57" height="3.4" fill="#d2ff00"/>
<rect x="251.18" y="515.08" width="1.5" height="6.04" fill="#d2ff00"/>
<rect x="251.18" y="515.08" width="17.32" height="3.4" fill="#d2ff00"/>
<rect x="269.7" y="514.78" width="2" height="3.8" fill="#d2ff00"/>
<rect x="251.18" y="522.91" width="1.5" height="6.04" fill="#d2ff00"/>
<rect x="251.18" y="525.55" width="17.32" height="3.4" fill="#d2ff00"/>
<rect x="269.7" y="525.25" width="2" height="3.8" fill="#d2ff00"/>
<rect x="235.11" y="504.61" width="1.5" height="8.65" fill="#d2ff00"/>
<rect x="235.11" y="504.61" width="33.39" height="3.4" fill="#d2ff00"/>
<rect x="269.7" y="504.31" width="2" height="3.8" fill="#d2ff00"/>
<rect x="235.11" y="515.06" width="1.5" height="8.65" fill="#d2ff00"/>
<rect x="235.11" y="520.31" width="17.57" height="3.4" fill="#d2ff00"/>
<rect x="219.04" y="494.14" width="1.5" height="9.96" fill="#ffc800"/>
<rect x="219.04" y="494.14" width="49.46" height="3.4" fill="#ffc800"/>
<rect x="269.7" y="493.84" width="2" height="3.8" fill="#ffc800"/>
<rect x="219.04" y="505.9" width="1.5" height="9.96" fill="#d2ff00"/>
<rect x="219.04" y="512.46" width="17.57" height="3.4" fill="#d2ff00"/>
<rect x="251.18" y="546.49" width="1.5" height="6.04" fill="#c8641e"/>
<rect x="251.18" y="546.49" width="17.32" height="3.4" fill="#c8641e"/>
<rect x="269.7" y="546.19" width="2" height="3.8" fill="#c8641e"/>
<rect x="251.18" y="554.33" width="1.5" height="6.04" fill="#d2ff00"/>
<rect x="251.18" y="556.96" width="17.32" height="3.4" fill="#d2ff00"/>
<rect x="269.7" y="556.66" width="2" height="3.8" fill="#d2ff00"/>
<rect x="235.11" y="536.02" width="1.5" height="8.65" fill="#ffc800"/>
<rect x="235.11" y="536.02" width="33.39" height="3.4" fill="#ffc800"/>
<rect x="269.7" y="535.72" width="2" height="3.8" fill="#ffc800"/>
<rect x="235.11" y="546.47" width="1.5" height="8.65" fill="#ffc800"/>
<rect x="235.11" y="551.73" width="17.57" height="3.4" fill="#ffc800"/>
<rect x="251.18" y="577.9" width="1.5" height="6.04" fill="#ffc800"/>
<rect x="251.18" y="577.9" width="17.32" height="3.4" fill="#ffc800"/>
<rect x="269.7" y="577.61" width="2" height="3.8" fill="#ffc800"/>
<rect x="251.18" y="585.74" width="1.5" height="6.04" fill="#b41e0a"/>
<rect x="251.18" y="588.38" width="17.32" height="3.4" fill="#b41e0a"/>
<rect x="269.7" y="588.08" width="2" height="3.8" fill="#b41e0a"/>
<rect x="235.11" y="567.43" width="1.5" height="8.65" fill="#d2ff00"/>
<rect x="235.11" y="567.43" width="33.39" height="3.4" fill="#d2ff00"/>
<rect x="269.7" y="567.13" width="2" height="3.8" fill="#d2ff00"/>
<rect x="235.11" y="577.89" width="1.5" height="8.65" fill="#ffc800"/>
<rect x="235.11" y="583.14" width="17.57" height="3.4" fill="#ffc800"/>
<rect x="219.04" y="543.87" width="1.5" height="16.51" fill="#ffc800"/>
<rect x="219.04" y="543.87" width="17.57" height="3.4" fill="#ffc800"/>
<rect x="219.04" y="562.18" width="1.5" height="16.51" fill="#ffc800"/>
<rect x="219.04" y="575.29" width="17.57" height="3.4" fill="#ffc800"/>
<rect x="202.97" y="503.3" width="1.5" height="28.94" fill="#d2ff00"/>
<rect x="202.97" y="503.3" width="17.57" height="3.4" fill="#d2ff00"/>
<rect x="202.97" y="534.04" width="1.5" height="28.94" fill="#d2ff00"/>
<rect x="202.97" y="559.58" width="17.57" height="3.4" fill="#d2ff00"/>
<rect x="186.9" y="461.42" width="1.5" height="35.81" fill="#d2ff00"/>
<rect x="186.9" y="461.42" width="33.64" height="3.4" fill="#d2ff00"/>
<rect x="186.9" y="499.03" width="1.5" height="35.81" fill="#d2ff00"/>
<rect x="186.9" y="531.44" width="17.57" height="3.4" fill="#d2ff00"/>
<rect x="170.83" y="412.99" width="1.5" height="42.52" fill="#00ff5f"/>
<rect x="170.83" y="412.99" width="49.71" height="3.4" fill="#00ff5f"/>
<rect x="170.83" y="457.31" width="1.5" height="42.52" fill="#64ff00"/>
<rect x="170.83" y="496.43" width="17.57" height="3.4" fill="#64ff00"/>
<rect x="251.18" y="609.32" width="1.5" height="6.04" fill="#00ff5f"/>
<rect x="251.18" y="609.32" width="17.32" height="3.4" fill="#00ff5f"/>
<rect x="269.7" y="609.02" width="2" height="3.8" fill="#00ff5f"/>
<rect x="251.18" y="617.15" width="1.5" height="6.04" fill="#14c8ff"/>
<rect x="251.18" y="619.79" width="17.32" height="3.4" fill="#14c8ff"/>
<rect x="269.7" y="619.49" width="2" height="3.8" fill="#14c8ff"/>
<rect x="235.11" y="598.85" width="1.5" height="8.65" fill="#00ffd2"/>
<rect x="235.11" y="598.85" width="33.39" height="3.4" fill="#00ffd2"/>
<rect x="269.7" y="598.55" width="2" height="3.8" fill="#00ffd2"/>
<rect x="235.11" y="609.3" width="1.5" height="8.65" fill="#00ffd2"/>
<rect x="235.11" y="614.55" width="17.57" height="3.4" fill="#00ffd2"/>
<rect x="251.18" y="651.2" width="1.5" height="6.04" fill="#00ffd2"/>
<rect x="251.18" y="651.2" width="17.32" height="3.4" fill="#00ffd2"/>
<rect x="269.7" y="650.9" width="2" height="3.8" fill="#00ffd2"/>
<rect x="251.18" y="659.04" width="1.5" height="6.04" fill="#00ffd2"/>
<rect x="251.18" y="661.67" width="17.32" height="3.4" fill="#00ffd2"/>
<rect x="269.7" y="661.37" width="2" height="3.8" fill="#00ffd2"/>
<rect x="235.11" y="640.73" width="1.5" height="8.65" fill="#00ffd2"/>
<rect x="235.11" y="640.73" width="33.39" height="3.4" fill="#00ffd2"/>
<rect x="269.7" y="640.43" width="2" height="3.8" fill="#00ffd2"/>
<rect x="235.11" y="651.18" width="1.5" height="8.65" fill="#00ffd2"/>
<rect x="235.11" y="656.44" width="17.57" height="3.4" fill="#00ffd2"/>
<rect x="219.04" y="630.26" width="1.5" height="9.96" fill="#00ff5f"/>
<rect x="219.04" y="630.26" width="49.46" height="3.4" fill="#00ff5f"/>
<rect x="269.7" y="629.96" width="2" height="3.8" fill="#00ff5f"/>
<rect x="219.04" y="642.02" width="1.5" height="9.96" fill="#00ffd2"/>
<rect x="219.04" y="648.58" width="17.57" height="3.4" fill="#00ffd2"/>
<rect x="251.18" y="703.56" width="1.5" height="6.04" fill="#00ffd2"/>
<rect x="251.18" y="703.56" width="17.32" height="3.4" fill="#00ffd2"/>
<rect x="269.7" y="703.26" width="2" height="3.8" fill="#00ffd2"/>
<rect x="251.18" y="711.39" width="1.5" height="6.04" fill="#f4f4f4"/>
<rect x="251.18" y="714.03" width="17.32" height="3.4" fill="#f4f4f4"/>
<rect x="235.11" y="693.09" width="1.5" height="8.65" fill="#00ff00"/>
<rect x="235.11" y="693.09" width="33.39" height="3.4" fill="#00ff00"/>
<rect x="269.7" y="692.79" width="2" height="3.8" fill="#00ff00"/>
<rect x="235.11" y="703.54" width="1.5" height="8.65" fill="#f4f4f4"/>
<rect x="235.11" y="708.79" width="17.57" height="3.4" fill="#f4f4f4"/>
<rect x="219.04" y="682.62" width="1.5" height="9.96" fill="#00ff00"/>
<rect x="219.04" y="682.62" width="49.46" height="3.4" fill="#00ff00"/>
<rect x="269.7" y="682.32" width="2" height="3.8" fill="#00ff00"/>
<rect x="219.04" y="694.38" width="1.5" height="9.96" fill="#00ff00"/>
<rect x="219.04" y="700.94" width="17.57" height="3.4" fill="#00ff00"/>
<rect x="202.97" y="672.14" width="1.5" height="10.62" fill="#00ff5f"/>
<rect x="202.97" y="672.14" width="65.53" height="3.4" fill="#00ff5f"/>
<rect x="269.7" y="671.84" width="2" height="3.8" fill="#00ff5f"/>
<rect x="202.97" y="684.56" width="1.5" height="10.62" fill="#00ff5f"/>
<rect x="202.97" y="691.78" width="17.57" height="3.4" fill="#00ff5f"/>
<rect x="186.9" y="639.42" width="1.5" height="22.07" fill="#00ff5f"/>
<rect x="186.9" y="639.42" width="33.64" height="3.4" fill="#00ff5f"/>
<rect x="186.9" y="663.29" width="1.5" height="22.07" fill="#00ff5f"/>
<rect x="186.9" y="681.96" width="17.57" height="3.4" fill="#00ff5f"/>
<rect x="170.83" y="606.7" width="1.5" height="27.8" fill="#00ffd2"/>
<rect x="170.83" y="606.7" width="65.78" height="3.4" fill="#00ffd2"/>
<rect x="170.83" y="636.3" width="1.5" height="27.8" fill="#00ff5f"/>
<rect x="170.83" y="660.69" width="17.57" height="3.4" fill="#00ff5f"/>
<rect x="251.18" y="734.97" width="1.5" height="6.04" fill="#00ff5f"/>
<rect x="251.18" y="734.97" width="17.32" height="3.4" fill="#00ff5f"/>
<rect x="269.7" y="734.67" width="2" height="3.8" fill="#00ff5f"/>
<rect x="251.18" y="742.81" width="1.5" height="6.04" fill="#00ffd2"/>
<rect x="251.18" y="745.44" width="17.32" height="3.4" fill="#00ffd2"/>
<rect x="269.7" y="745.14" width="2" height="3.8" fill="#00ffd2"/>
<rect x="235.11" y="724.5" width="1.5" height="8.65" fill="#00ffd2"/>
<rect x="235.11" y="724.5" width="33.39" height="3.4" fill="#00ffd2"/>
<rect x="269.7" y="724.2" width="2" height="3.8" fill="#00ffd2"/>
<rect x="235.11" y="734.95" width="1.5" height="8.65" fill="#00ffd2"/>
<rect x="235.11" y="740.21" width="17.57" height="3.4" fill="#00ffd2"/>
<rect x="251.18" y="776.85" width="1.5" height="6.04" fill="#00ffd2"/>
<rect x="251.18" y="776.85" width="17.32" height="3.4" fill="#00ffd2"/>
<rect x="269.7" y="776.55" width="2" height="3.8" fill="#00ffd2"/>
<rect x="251.18" y="784.69" width="1.5" height="6.04" fill="#00ffd2"/>
<rect x="251.18" y="787.33" width="17.32" height="3.4" fill="#00ffd2"/>
<rect x="269.7" y="787.03" width="2" height="3.8" fill="#00ffd2"/>
<rect x="235.11" y="766.38" width="1.5" height="8.65" fill="#00ff5f"/>
<rect x="235.11" y="766.38" width="33.39" height="3.4" fill="#00ff5f"/>
<rect x="269.7" y="766.08" width="2" height="3.8" fill="#00ff5f"/>
<rect x="235.11" y="776.84" width="1.5" height="8.65" fill="#00ffd2"/>
<rect x="235.11" y="782.09" width="17.57" height="3.4" fill="#00ffd2"/>
<rect x="251.18" y="808.27" width="1.5" height="6.04" fill="#00ff5f"/>
<rect x="251.18" y="808.27" width="17.32" height="3.4" fill="#00ff5f"/>
<rect x="269.7" y="807.97" width="2" height="3.8" fill="#00ff5f"/>
<rect x="251.18" y="816.1" width="1.5" height="6.04" fill="#00ffd2"/>
<rect x="251.18" y="818.74" width="17.32" height="3.4" fill="#00ffd2"/>
<rect x="269.7" y="818.44" width="2" height="3.8" fill="#00ffd2"/>
<rect x="235.11" y="797.8" width="1.5" height="8.65" fill="#00ff00"/>
<rect x="235.11" y="797.8" width="33.39" height="3.4" fill="#00ff00"/>
<rect x="269.7" y="797.5" width="2" height="3.8" fill="#00ff00"/>
<rect x="235.11" y="808.25" width="1.5" height="8.65" fill="#00ff5f"/>
<rect x="235.11" y="813.5" width="17.57" height="3.4" fill="#00ff5f"/>
<rect x="219.04" y="774.24" width="1.5" height="16.51" fill="#00ff5f"/>
<rect x="219.04" y="774.24" width="17.57" height="3.4" fill="#00ff5f"/>
<rect x="219.04" y="792.54" width="1.5" height="16.51" fill="#00ff5f"/>
<rect x="219.04" y="805.65" width="17.57" height="3.4" fill="#00ff5f"/>
<rect x="202.97" y="755.91" width="1.5" height="17.82" fill="#00ff00"/>
<rect x="202.97" y="755.91" width="65.53" height="3.4" fill="#00ff00"/>
<rect x="269.7" y="755.61" width="2" height="3.8" fill="#00ff00"/>
<rect x="202.97" y="775.53" width="1.5" height="17.82" fill="#00ff5f"/>
<rect x="202.97" y="789.94" width="17.57" height="3.4" fill="#00ff5f"/>
<rect x="186.9" y="732.35" width="1.5" height="21.09" fill="#00ffd2"/>
<rect x="186.9" y="732.35" width="49.71" height="3.4" fill="#00ffd2"/>
<rect x="186.9" y="755.24" width="1.5" height="21.09" fill="#00ff5f"/>
<rect x="186.9" y="772.93" width="17.57" height="3.4" fill="#00ff5f"/>
<rect x="251.18" y="829.21" width="1.5" height="6.04" fill="#14c8ff"/>
<rect x="251.18" y="829.21" width="17.32" height="3.4" fill="#14c8ff"/>
<rect x="269.7" y="828.91" width="2" height="3.8" fill="#14c8ff"/>
<rect x="251.18" y="837.04" width="1.5" height="6.04" fill="#00ffd2"/>
<rect x="251.18" y="839.68" width="17.32" height="3.4" fill="#00ffd2"/>
<rect x="269.7" y="839.38" width="2" height="3.8" fill="#00ffd2"/>
<rect x="251.18" y="860.62" width="1.5" height="6.04" fill="#00ffd2"/>
<rect x="251.18" y="860.62" width="17.32" height="3.4" fill="#00ffd2"/>
<rect x="269.7" y="860.32" width="2" height="3.8" fill="#00ffd2"/>
<rect x="251.18" y="868.46" width="1.5" height="6.04" fill="#14c8ff"/>
<rect x="251.18" y="871.09" width="17.32" height="3.4" fill="#14c8ff"/>
<rect x="269.7" y="870.79" width="2" height="3.8" fill="#14c8ff"/>
<rect x="251.18" y="881.56" width="1.5" height="6.04" fill="#14c8ff"/>
<rect x="251.18" y="881.56" width="17.32" height="3.4" fill="#14c8ff"/>
<rect x="269.7" y="881.26" width="2" height="3.8" fill="#14c8ff"/>
<rect x="251.18" y="889.4" width="1.5" height="6.04" fill="#0a5af8"/>
<rect x="251.18" y="892.03" width="17.32" height="3.4" fill="#0a5af8"/>
<rect x="269.7" y="891.74" width="2" height="3.8" fill="#0a5af8"/>
<rect x="235.11" y="865.86" width="1.5" height="11.27" fill="#00ffd2"/>
<rect x="235.11" y="865.86" width="17.57" height="3.4" fill="#00ffd2"/>
<rect x="235.11" y="878.93" width="1.5" height="11.27" fill="#14c8ff"/>
<rect x="235.11" y="886.8" width="17.57" height="3.4" fill="#14c8ff"/>
<rect x="251.18" y="902.51" width="1.5" height="6.04" fill="#00ff00"/>
<rect x="251.18" y="902.51" width="17.32" height="3.4" fill="#00ff00"/>
<rect x="269.7" y="902.21" width="2" height="3.8" fill="#00ff00"/>
<rect x="251.18" y="910.34" width="1.5" height="6.04" fill="#00ff00"/>
<rect x="251.18" y="912.98" width="17.32" height="3.4" fill="#00ff00"/>
<rect x="269.7" y="912.68" width="2" height="3.8" fill="#00ff00"/>
<rect x="251.18" y="933.92" width="1.5" height="6.04" fill="#00ff00"/>
<rect x="251.18" y="933.92" width="17.32" height="3.4" fill="#00ff00"/>
<rect x="269.7" y="933.62" width="2" height="3.8" fill="#00ff00"/>
<rect x="251.18" y="941.75" width="1.5" height="6.04" fill="#00ff00"/>
<rect x="251.18" y="944.39" width="17.32" height="3.4" fill="#00ff00"/>
<rect x="269.7" y="944.09" width="2" height="3.8" fill="#00ff00"/>
<rect x="235.11" y="923.45" width="1.5" height="8.65" fill="#00ff00"/>
<rect x="235.11" y="923.45" width="33.39" height="3.4" fill="#00ff00"/>
<rect x="269.7" y="923.15" width="2" height="3.8" fill="#00ff00"/>
<rect x="235.11" y="933.9" width="1.5" height="8.65" fill="#00ff00"/>
<rect x="235.11" y="939.15" width="17.57" height="3.4" fill="#00ff00"/>
<rect x="219.04" y="907.74" width="1.5" height="12.58" fill="#00ff00"/>
<rect x="219.04" y="907.74" width="33.64" height="3.4" fill="#00ff00"/>
<rect x="219.04" y="922.12" width="1.5" height="12.58" fill="#00ff00"/>
<rect x="219.04" y="931.3" width="17.57" height="3.4" fill="#00ff00"/>
<rect x="202.97" y="876.33" width="1.5" height="22.4" fill="#00ffd2"/>
<rect x="202.97" y="876.33" width="33.64" height="3.4" fill="#00ffd2"/>
<rect x="202.97" y="900.52" width="1.5" height="22.4" fill="#00ff5f"/>
<rect x="202.97" y="919.52" width="17.57" height="3.4" fill="#00ff5f"/>
<rect x="186.9" y="850.15" width="1.5" height="24.69" fill="#14c8ff"/>
<rect x="186.9" y="850.15" width="81.6" height="3.4" fill="#14c8ff"/>
<rect x="269.7" y="849.85" width="2" height="3.8" fill="#14c8ff"/>
<rect x="186.9" y="876.64" width="1.5" height="24.69" fill="#00ffd2"/>
<rect x="186.9" y="897.92" width="17.57" height="3.4" fill="#00ffd2"/>
<rect x="170.83" y="834.44" width="1.5" height="20.6" fill="#14c8ff"/>
<rect x="170.83" y="834.44" width="81.85" height="3.4" fill="#14c8ff"/>
<rect x="170.83" y="856.84" width="1.5" height="20.6" fill="#00ffd2"/>
<rect x="170.83" y="874.04" width="17.57" height="3.4" fill="#00ffd2"/>
<rect x="154.76" y="752.64" width="1.5" height="51.6" fill="#00ff5f"/>
<rect x="154.76" y="752.64" width="33.64" height="3.4" fill="#00ff5f"/>
<rect x="154.76" y="806.04" width="1.5" height="51.6" fill="#00ffd2"/>
<rect x="154.76" y="854.24" width="17.57" height="3.4" fill="#00ffd2"/>
<rect x="138.69" y="633.7" width="1.5" height="85.67" fill="#00ffd2"/>
<rect x="138.69" y="633.7" width="33.64" height="3.4" fill="#00ffd2"/>
<rect x="138.69" y="721.17" width="1.5" height="85.67" fill="#00ffd2"/>
<rect x="138.69" y="803.44" width="17.57" height="3.4" fill="#00ffd2"/>
<rect x="122.62" y="454.71" width="1.5" height="132.73" fill="#00ff5f"/>
<rect x="122.62" y="454.71" width="49.71" height="3.4" fill="#00ff5f"/>
<rect x="122.62" y="589.24" width="1.5" height="132.73" fill="#00ffd2"/>
<rect x="122.62" y="718.57" width="17.57" height="3.4" fill="#00ffd2"/>
<rect x="106.55" y="354.09" width="1.5" height="117.08" fill="#14c8ff"/>
<rect x="106.55" y="354.09" width="113.99" height="3.4" fill="#14c8ff"/>
<rect x="106.55" y="472.96" width="1.5" height="117.08" fill="#00ffd2"/>
<rect x="106.55" y="586.64" width="17.57" height="3.4" fill="#00ffd2"/>
<rect x="58.34" y="109.71" width="1.5" height="181.12" fill="#0a5af8"/>
<rect x="58.34" y="109.71" width="17.57" height="3.4" fill="#0a5af8"/>
<rect x="58.34" y="292.64" width="1.5" height="181.12" fill="#00ffd2"/>
<rect x="58.34" y="470.36" width="49.71" height="3.4" fill="#00ffd2"/>
<rect x="42.27" y="59.59" width="1.5" height="116.02" fill="#14c8ff"/>
<rect x="42.27" y="59.59" width="210.41" height="3.4" fill="#14c8ff"/>
<rect x="42.27" y="177.41" width="1.5" height="116.02" fill="#14c8ff"/>
<rect x="42.27" y="290.04" width="17.57" height="3.4" fill="#14c8ff"/>
<rect x="26.2" y="11.82" width="1.5" height="82.3" fill="#00ff5f"/>
<rect x="26.2" y="11.82" width="178.27" height="3.4" fill="#00ff5f"/>
<rect x="26.2" y="95.92" width="1.5" height="82.3" fill="#00ffd2"/>
<rect x="26.2" y="174.81" width="17.57" height="3.4" fill="#00ffd2"/>
<rect x="11.9" y="93.32" width="15.8" height="3.4" fill="#00ffd2"/>
</g>
<g fill="#1c1c1c">
<rect x="462.34" y="33.92" width="3.3" height="7.84"/>
<rect x="446.3" y="33.92" width="19.34" height="5.2"/>
<rect x="443.3" y="33.82" width="3.6" height="5.4"/>
<rect x="462.34" y="41.76" width="3.3" height="7.84"/>
<rect x="446.3" y="44.39" width="19.34" height="5.2"/>
<rect x="443.3" y="44.29" width="3.6" height="5.4"/>
<rect x="478.43" y="23.45" width="3.3" height="10.45"/>
<rect x="446.3" y="23.45" width="35.43" height="5.2"/>
<rect x="443.3" y="23.35" width="3.6" height="5.4"/>
<rect x="478.43" y="33.9" width="3.3" height="10.45"/>
<rect x="462.34" y="39.16" width="19.39" height="5.2"/>
<rect x="494.52" y="12.97" width="3.3" height="11.76"/>
<rect x="446.3" y="12.97" width="51.52" height="5.2"/>
<rect x="443.3" y="12.87" width="3.6" height="5.4"/>
<rect x="494.52" y="24.74" width="3.3" height="11.76"/>
<rect x="478.43" y="31.3" width="19.39" height="5.2"/>
<rect x="510.61" y="2.5" width="3.3" height="12.42"/>
<rect x="446.3" y="2.5" width="67.61" height="5.2"/>
<rect x="443.3" y="2.4" width="3.6" height="5.4"/>
<rect x="510.61" y="14.92" width="3.3" height="12.42"/>
<rect x="494.52" y="22.14" width="19.39" height="5.2"/>
<rect x="462.34" y="54.87" width="3.3" height="7.84"/>
<rect x="446.3" y="54.87" width="19.34" height="5.2"/>
<rect x="443.3" y="54.77" width="3.6" height="5.4"/>
<rect x="462.34" y="62.7" width="3.3" height="7.84"/>
<rect x="446.3" y="65.34" width="19.34" height="5.2"/>
<rect x="443.3" y="65.24" width="3.6" height="5.4"/>
<rect x="462.34" y="75.81" width="3.3" height="7.84"/>
<rect x="446.3" y="75.81" width="19.34" height="5.2"/>
<rect x="443.3" y="75.71" width="3.6" height="5.4"/>
<rect x="462.34" y="83.65" width="3.3" height="7.84"/>
<rect x="446.3" y="86.28" width="19.34" height="5.2"/>
<rect x="443.3" y="86.18" width="3.6" height="5.4"/>
<rect x="462.34" y="96.76" width="3.3" height="7.84"/>
<rect x="446.3" y="96.76" width="19.34" height="5.2"/>
<rect x="443.3" y="96.66" width="3.6" height="5.4"/>
<rect x="462.34" y="104.59" width="3.3" height="7.84"/>
<rect x="446.3" y="107.23" width="19.34" height="5.2"/>
<rect x="443.3" y="107.13" width="3.6" height="5.4"/>
<rect x="462.34" y="128.18" width="3.3" height="7.84"/>
<rect x="446.3" y="128.18" width="19.34" height="5.2"/>
<rect x="443.3" y="128.08" width="3.6" height="5.4"/>
<rect x="462.34" y="136.01" width="3.3" height="7.84"/>
<rect x="446.3" y="138.65" width="19.34" height="5.2"/>
<rect x="443.3" y="138.55" width="3.6" height="5.4"/>
<rect x="462.34" y="159.59" width="3.3" height="7.84"/>
<rect x="446.3" y="159.59" width="19.34" height="5.2"/>
<rect x="443.3" y="159.5" width="3.6" height="5.4"/>
<rect x="462.34" y="167.43" width="3.3" height="7.84"/>
<rect x="446.3" y="170.07" width="19.34" height="5.2"/>
<rect x="443.3" y="169.97" width="3.6" height="5.4"/>
<rect x="478.43" y="149.12" width="3.3" height="10.45"/>
<rect x="446.3" y="149.12" width="35.43" height="5.2"/>
<rect x="443.3" y="149.02" width="3.6" height="5.4"/>
<rect x="478.43" y="159.58" width="3.3" height="10.45"/>
<rect x="462.34" y="164.83" width="19.39" height="5.2"/>
<rect x="494.52" y="133.41" width="3.3" height="14.38"/>
<rect x="462.34" y="133.41" width="35.48" height="5.2"/>
<rect x="494.52" y="147.79" width="3.3" height="14.38"/>
<rect x="478.43" y="156.98" width="19.39" height="5.2"/>
<rect x="510.61" y="117.7" width="3.3" height="16.35"/>
<rect x="446.3" y="117.7" width="67.61" height="5.2"/>
<rect x="443.3" y="117.6" width="3.6" height="5.4"/>
<rect x="510.61" y="134.05" width="3.3" height="16.35"/>
<rect x="494.52" y="145.19" width="19.39" height="5.2"/>
<rect x="462.34" y="222.43" width="3.3" height="7.84"/>
<rect x="446.3" y="222.43" width="19.34" height="5.2"/>
<rect x="443.3" y="222.33" width="3.6" height="5.4"/>
<rect x="462.34" y="230.27" width="3.3" height="7.84"/>
<rect x="446.3" y="232.91" width="19.34" height="5.2"/>
<rect x="443.3" y="232.81" width="3.6" height="5.4"/>
<rect x="478.43" y="211.96" width="3.3" height="10.45"/>
<rect x="446.3" y="211.96" width="35.43" height="5.2"/>
<rect x="443.3" y="211.86" width="3.6" height="5.4"/>
<rect x="478.43" y="222.41" width="3.3" height="10.45"/>
<rect x="462.34" y="227.67" width="19.39" height="5.2"/>
<rect x="494.52" y="201.49" width="3.3" height="11.76"/>
<rect x="446.3" y="201.49" width="51.52" height="5.2"/>
<rect x="443.3" y="201.39" width="3.6" height="5.4"/>
<rect x="494.52" y="213.25" width="3.3" height="11.76"/>
<rect x="478.43" y="219.81" width="19.39" height="5.2"/>
<rect x="510.61" y="191.01" width="3.3" height="12.42"/>
<rect x="446.3" y="191.01" width="67.61" height="5.2"/>
<rect x="443.3" y="190.91" width="3.6" height="5.4"/>
<rect x="510.61" y="203.43" width="3.3" height="12.42"/>
<rect x="494.52" y="210.65" width="19.39" height="5.2"/>
<rect x="526.7" y="180.54" width="3.3" height="12.75"/>
<rect x="446.3" y="180.54" width="83.7" height="5.2"/>
<rect x="443.3" y="180.44" width="3.6" height="5.4"/>
<rect x="526.7" y="193.29" width="3.3" height="12.75"/>
<rect x="510.61" y="200.83" width="19.39" height="5.2"/>
<rect x="462.34" y="316.69" width="3.3" height="7.84"/>
<rect x="446.3" y="316.69" width="19.34" height="5.2"/>
<rect x="443.3" y="316.59" width="3.6" height="5.4"/>
<rect x="462.34" y="324.53" width="3.3" height="7.84"/>
<rect x="446.3" y="327.16" width="19.34" height="5.2"/>
<rect x="443.3" y="327.06" width="3.6" height="5.4"/>
<rect x="478.43" y="306.22" width="3.3" height="10.45"/>
<rect x="446.3" y="306.22" width="35.43" height="5.2"/>
<rect x="443.3" y="306.12" width="3.6" height="5.4"/>
<rect x="478.43" y="316.67" width="3.3" height="10.45"/>
<rect x="462.34" y="321.93" width="19.39" height="5.2"/>
<rect x="494.52" y="295.74" width="3.3" height="11.76"/>
<rect x="446.3" y="295.74" width="51.52" height="5.2"/>
<rect x="443.3" y="295.64" width="3.6" height="5.4"/>
<rect x="494.52" y="307.51" width="3.3" height="11.76"/>
<rect x="478.43" y="314.07" width="19.39" height="5.2"/>
<rect x="510.61" y="285.27" width="3.3" height="12.42"/>
<rect x="446.3" y="285.27" width="67.61" height="5.2"/>
<rect x="443.3" y="285.17" width="3.6" height="5.4"/>
<rect x="510.61" y="297.69" width="3.3" height="12.42"/>
<rect x="494.52" y="304.91" width="19.39" height="5.2"/>
<rect x="526.7" y="274.8" width="3.3" height="12.75"/>
<rect x="446.3" y="274.8" width="83.7" height="5.2"/>
<rect x="443.3" y="274.7" width="3.6" height="5.4"/>
<rect x="526.7" y="287.54" width="3.3" height="12.75"/>
<rect x="510.61" y="295.09" width="19.39" height="5.2"/>
<rect x="542.79" y="264.33" width="3.3" height="12.91"/>
<rect x="446.3" y="264.33" width="99.79" height="5.2"/>
<rect x="443.3" y="264.23" width="3.6" height="5.4"/>
<rect x="542.79" y="277.23" width="3.3" height="12.91"/>
<rect x="526.7" y="284.94" width="19.39" height="5.2"/>
<rect x="558.88" y="253.85" width="3.3" height="12.99"/>
<rect x="446.3" y="253.85" width="115.88" height="5.2"/>
<rect x="443.3" y="253.75" width="3.6" height="5.4"/>
<rect x="558.88" y="266.84" width="3.3" height="12.99"/>
<rect x="542.79" y="274.63" width="19.39" height="5.2"/>
<rect x="574.97" y="243.38" width="3.3" height="13.03"/>
<rect x="446.3" y="243.38" width="131.97" height="5.2"/>
<rect x="443.3" y="243.28" width="3.6" height="5.4"/>
<rect x="574.97" y="256.41" width="3.3" height="13.03"/>
<rect x="558.88" y="264.24" width="19.39" height="5.2"/>
<rect x="591.06" y="190.69" width="3.3" height="34.16"/>
<rect x="526.7" y="190.69" width="67.66" height="5.2"/>
<rect x="591.06" y="224.85" width="3.3" height="34.16"/>
<rect x="574.97" y="253.81" width="19.39" height="5.2"/>
<rect x="607.15" y="131.45" width="3.3" height="48"/>
<rect x="510.61" y="131.45" width="99.84" height="5.2"/>
<rect x="607.15" y="179.45" width="3.3" height="48"/>
<rect x="591.06" y="222.25" width="19.39" height="5.2"/>
<rect x="623.24" y="101.99" width="3.3" height="40.03"/>
<rect x="462.34" y="101.99" width="164.2" height="5.2"/>
<rect x="623.24" y="142.02" width="3.3" height="40.03"/>
<rect x="607.15" y="176.85" width="19.39" height="5.2"/>
<rect x="639.33" y="81.05" width="3.3" height="31.79"/>
<rect x="462.34" y="81.05" width="180.29" height="5.2"/>
<rect x="639.33" y="112.83" width="3.3" height="31.79"/>
<rect x="623.24" y="139.42" width="19.39" height="5.2"/>
<rect x="462.34" y="337.64" width="3.3" height="7.84"/>
<rect x="446.3" y="337.64" width="19.34" height="5.2"/>
<rect x="443.3" y="337.54" width="3.6" height="5.4"/>
<rect x="462.34" y="345.47" width="3.3" height="7.84"/>
<rect x="446.3" y="348.11" width="19.34" height="5.2"/>
<rect x="443.3" y="348.01" width="3.6" height="5.4"/>
<rect x="462.34" y="369.06" width="3.3" height="7.84"/>
<rect x="446.3" y="369.06" width="19.34" height="5.2"/>
<rect x="443.3" y="368.95" width="3.6" height="5.4"/>
<rect x="462.34" y="376.89" width="3.3" height="7.84"/>
<rect x="446.3" y="379.53" width="19.34" height="5.2"/>
<rect x="443.3" y="379.43" width="3.6" height="5.4"/>
<rect x="478.43" y="358.58" width="3.3" height="10.45"/>
<rect x="446.3" y="358.58" width="35.43" height="5.2"/>
<rect x="443.3" y="358.48" width="3.6" height="5.4"/>
<rect x="478.43" y="369.04" width="3.3" height="10.45"/>
<rect x="462.34" y="374.29" width="19.39" height="5.2"/>
<rect x="494.52" y="342.87" width="3.3" height="14.38"/>
<rect x="462.34" y="342.87" width="35.48" height="5.2"/>
<rect x="494.52" y="357.25" width="3.3" height="14.38"/>
<rect x="478.43" y="366.44" width="19.39" height="5.2"/>
<rect x="462.34" y="400.47" width="3.3" height="7.84"/>
<rect x="446.3" y="400.47" width="19.34" height="5.2"/>
<rect x="443.3" y="400.37" width="3.6" height="5.4"/>
<rect x="462.34" y="408.31" width="3.3" height="7.84"/>
<rect x="446.3" y="410.95" width="19.34" height="5.2"/>
<rect x="443.3" y="410.85" width="3.6" height="5.4"/>
<rect x="478.43" y="390" width="3.3" height="10.45"/>
<rect x="446.3" y="390" width="35.43" height="5.2"/>
<rect x="443.3" y="389.9" width="3.6" height="5.4"/>
<rect x="478.43" y="400.46" width="3.3" height="10.45"/>
<rect x="462.34" y="405.71" width="19.39" height="5.2"/>
<rect x="462.34" y="431.89" width="3.3" height="7.84"/>
<rect x="446.3" y="431.89" width="19.34" height="5.2"/>
<rect x="443.3" y="431.79" width="3.6" height="5.4"/>
<rect x="462.34" y="439.73" width="3.3" height="7.84"/>
<rect x="446.3" y="442.37" width="19.34" height="5.2"/>
<rect x="443.3" y="442.27" width="3.6" height="5.4"/>
<rect x="478.43" y="421.42" width="3.3" height="10.45"/>
<rect x="446.3" y="421.42" width="35.43" height="5.2"/>
<rect x="443.3" y="421.32" width="3.6" height="5.4"/>
<rect x="478.43" y="431.87" width="3.3" height="10.45"/>
<rect x="462.34" y="437.13" width="19.39" height="5.2"/>
<rect x="494.52" y="397.86" width="3.3" height="18.31"/>
<rect x="478.43" y="397.86" width="19.39" height="5.2"/>
<rect x="494.52" y="416.17" width="3.3" height="18.31"/>
<rect x="478.43" y="429.27" width="19.39" height="5.2"/>
<rect x="462.34" y="473.79" width="3.3" height="7.84"/>
<rect x="446.3" y="473.79" width="19.34" height="5.2"/>
<rect x="443.3" y="473.69" width="3.6" height="5.4"/>
<rect x="462.34" y="481.62" width="3.3" height="7.84"/>
<rect x="446.3" y="484.26" width="19.34" height="5.2"/>
<rect x="443.3" y="484.16" width="3.6" height="5.4"/>
<rect x="478.43" y="463.31" width="3.3" height="10.45"/>
<rect x="446.3" y="463.31" width="35.43" height="5.2"/>
<rect x="443.3" y="463.21" width="3.6" height="5.4"/>
<rect x="478.43" y="473.77" width="3.3" height="10.45"/>
<rect x="462.34" y="479.02" width="19.39" height="5.2"/>
<rect x="494.52" y="452.84" width="3.3" height="11.76"/>
<rect x="446.3" y="452.84" width="51.52" height="5.2"/>
<rect x="443.3" y="452.74" width="3.6" height="5.4"/>
<rect x="494.52" y="464.6" width="3.3" height="11.76"/>
<rect x="478.43" y="471.17" width="19.39" height="5.2"/>
<rect x="462.34" y="515.68" width="3.3" height="7.84"/>
<rect x="446.3" y="515.68" width="19.34" height="5.2"/>
<rect x="443.3" y="515.58" width="3.6" height="5.4"/>
<rect x="462.34" y="523.51" width="3.3" height="7.84"/>
<rect x="446.3" y="526.15" width="19.34" height="5.2"/>
<rect x="443.3" y="526.05" width="3.6" height="5.4"/>
<rect x="478.43" y="505.2" width="3.3" height="10.45"/>
<rect x="446.3" y="505.2" width="35.43" height="5.2"/>
<rect x="443.3" y="505.1" width="3.6" height="5.4"/>
<rect x="478.43" y="515.66" width="3.3" height="10.45"/>
<rect x="462.34" y="520.91" width="19.39" height="5.2"/>
<rect x="494.52" y="494.73" width="3.3" height="11.76"/>
<rect x="446.3" y="494.73" width="51.52" height="5.2"/>
<rect x="443.3" y="494.63" width="3.6" height="5.4"/>
<rect x="494.52" y="506.49" width="3.3" height="11.76"/>
<rect x="478.43" y="513.06" width="19.39" height="5.2"/>
<rect x="462.34" y="547.1" width="3.3" height="7.84"/>
<rect x="446.3" y="547.1" width="19.34" height="5.2"/>
<rect x="443.3" y="547" width="3.6" height="5.4"/>
<rect x="462.34" y="554.93" width="3.3" height="7.84"/>
<rect x="446.3" y="557.57" width="19.34" height="5.2"/>
<rect x="443.3" y="557.47" width="3.6" height="5.4"/>
<rect x="478.43" y="536.62" width="3.3" height="10.45"/>
<rect x="446.3" y="536.62" width="35.43" height="5.2"/>
<rect x="443.3" y="536.52" width="3.6" height="5.4"/>
<rect x="478.43" y="547.08" width="3.3" height="10.45"/>
<rect x="462.34" y="552.33" width="19.39" height="5.2"/>
<rect x="462.34" y="578.51" width="3.3" height="7.84"/>
<rect x="446.3" y="578.51" width="19.34" height="5.2"/>
<rect x="443.3" y="578.41" width="3.6" height="5.4"/>
<rect x="462.34" y="586.35" width="3.3" height="7.84"/>
<rect x="446.3" y="588.99" width="19.34" height="5.2"/>
<rect x="443.3" y="588.89" width="3.6" height="5.4"/>
<rect x="478.43" y="568.04" width="3.3" height="10.45"/>
<rect x="446.3" y="568.04" width="35.43" height="5.2"/>
<rect x="443.3" y="567.94" width="3.6" height="5.4"/>
<rect x="478.43" y="578.5" width="3.3" height="10.45"/>
<rect x="462.34" y="583.75" width="19.39" height="5.2"/>
<rect x="494.52" y="544.48" width="3.3" height="18.31"/>
<rect x="478.43" y="544.48" width="19.39" height="5.2"/>
<rect x="494.52" y="562.79" width="3.3" height="18.31"/>
<rect x="478.43" y="575.9" width="19.39" height="5.2"/>
<rect x="510.61" y="503.89" width="3.3" height="30.75"/>
<rect x="494.52" y="503.89" width="19.39" height="5.2"/>
<rect x="510.61" y="534.64" width="3.3" height="30.75"/>
<rect x="494.52" y="560.19" width="19.39" height="5.2"/>
<rect x="526.7" y="462" width="3.3" height="37.62"/>
<rect x="494.52" y="462" width="35.48" height="5.2"/>
<rect x="526.7" y="499.62" width="3.3" height="37.62"/>
<rect x="510.61" y="532.04" width="19.39" height="5.2"/>
<rect x="542.79" y="413.57" width="3.3" height="44.33"/>
<rect x="494.52" y="413.57" width="51.57" height="5.2"/>
<rect x="542.79" y="457.89" width="3.3" height="44.33"/>
<rect x="526.7" y="497.02" width="19.39" height="5.2"/>
<rect x="462.34" y="609.93" width="3.3" height="7.84"/>
<rect x="446.3" y="609.93" width="19.34" height="5.2"/>
<rect x="443.3" y="609.83" width="3.6" height="5.4"/>
<rect x="462.34" y="617.77" width="3.3" height="7.84"/>
<rect x="446.3" y="620.41" width="19.34" height="5.2"/>
<rect x="443.3" y="620.31" width="3.6" height="5.4"/>
<rect x="478.43" y="599.46" width="3.3" height="10.45"/>
<rect x="446.3" y="599.46" width="35.43" height="5.2"/>
<rect x="443.3" y="599.36" width="3.6" height="5.4"/>
<rect x="478.43" y="609.92" width="3.3" height="10.45"/>
<rect x="462.34" y="615.17" width="19.39" height="5.2"/>
<rect x="462.34" y="651.83" width="3.3" height="7.84"/>
<rect x="446.3" y="651.83" width="19.34" height="5.2"/>
<rect x="443.3" y="651.73" width="3.6" height="5.4"/>
<rect x="462.34" y="659.66" width="3.3" height="7.84"/>
<rect x="446.3" y="662.3" width="19.34" height="5.2"/>
<rect x="443.3" y="662.2" width="3.6" height="5.4"/>
<rect x="478.43" y="641.35" width="3.3" height="10.45"/>
<rect x="446.3" y="641.35" width="35.43" height="5.2"/>
<rect x="443.3" y="641.25" width="3.6" height="5.4"/>
<rect x="478.43" y="651.81" width="3.3" height="10.45"/>
<rect x="462.34" y="657.06" width="19.39" height="5.2"/>
<rect x="494.52" y="630.88" width="3.3" height="11.76"/>
<rect x="446.3" y="630.88" width="51.52" height="5.2"/>
<rect x="443.3" y="630.78" width="3.6" height="5.4"/>
<rect x="494.52" y="642.64" width="3.3" height="11.76"/>
<rect x="478.43" y="649.21" width="19.39" height="5.2"/>
<rect x="462.34" y="704.19" width="3.3" height="7.84"/>
<rect x="446.3" y="704.19" width="19.34" height="5.2"/>
<rect x="443.3" y="704.09" width="3.6" height="5.4"/>
<rect x="462.34" y="712.03" width="3.3" height="7.84"/>
<rect x="446.3" y="714.66" width="19.34" height="5.2"/>
<rect x="443.3" y="714.56" width="3.6" height="5.4"/>
<rect x="478.43" y="693.72" width="3.3" height="10.45"/>
<rect x="446.3" y="693.72" width="35.43" height="5.2"/>
<rect x="443.3" y="693.62" width="3.6" height="5.4"/>
<rect x="478.43" y="704.17" width="3.3" height="10.45"/>
<rect x="462.34" y="709.43" width="19.39" height="5.2"/>
<rect x="494.52" y="683.25" width="3.3" height="11.76"/>
<rect x="446.3" y="683.25" width="51.52" height="5.2"/>
<rect x="443.3" y="683.14" width="3.6" height="5.4"/>
<rect x="494.52" y="695.01" width="3.3" height="11.76"/>
<rect x="478.43" y="701.57" width="19.39" height="5.2"/>
<rect x="510.61" y="672.77" width="3.3" height="12.42"/>
<rect x="446.3" y="672.77" width="67.61" height="5.2"/>
<rect x="443.3" y="672.67" width="3.6" height="5.4"/>
<rect x="510.61" y="685.19" width="3.3" height="12.42"/>
<rect x="494.52" y="692.41" width="19.39" height="5.2"/>
<rect x="526.7" y="640.04" width="3.3" height="23.87"/>
<rect x="494.52" y="640.04" width="35.48" height="5.2"/>
<rect x="526.7" y="663.92" width="3.3" height="23.87"/>
<rect x="510.61" y="682.59" width="19.39" height="5.2"/>
<rect x="542.79" y="607.32" width="3.3" height="29.6"/>
<rect x="478.43" y="607.32" width="67.66" height="5.2"/>
<rect x="542.79" y="636.92" width="3.3" height="29.6"/>
<rect x="526.7" y="661.32" width="19.39" height="5.2"/>
<rect x="462.34" y="735.61" width="3.3" height="7.84"/>
<rect x="446.3" y="735.61" width="19.34" height="5.2"/>
<rect x="443.3" y="735.51" width="3.6" height="5.4"/>
<rect x="462.34" y="743.45" width="3.3" height="7.84"/>
<rect x="446.3" y="746.08" width="19.34" height="5.2"/>
<rect x="443.3" y="745.98" width="3.6" height="5.4"/>
<rect x="478.43" y="725.14" width="3.3" height="10.45"/>
<rect x="446.3" y="725.14" width="35.43" height="5.2"/>
<rect x="443.3" y="725.04" width="3.6" height="5.4"/>
<rect x="478.43" y="735.59" width="3.3" height="10.45"/>
<rect x="462.34" y="740.85" width="19.39" height="5.2"/>
<rect x="462.34" y="777.5" width="3.3" height="7.84"/>
<rect x="446.3" y="777.5" width="19.34" height="5.2"/>
<rect x="443.3" y="777.4" width="3.6" height="5.4"/>
<rect x="462.34" y="785.34" width="3.3" height="7.84"/>
<rect x="446.3" y="787.98" width="19.34" height="5.2"/>
<rect x="443.3" y="787.88" width="3.6" height="5.4"/>
<rect x="478.43" y="767.03" width="3.3" height="10.45"/>
<rect x="446.3" y="767.03" width="35.43" height="5.2"/>
<rect x="443.3" y="766.93" width="3.6" height="5.4"/>
<rect x="478.43" y="777.48" width="3.3" height="10.45"/>
<rect x="462.34" y="782.74" width="19.39" height="5.2"/>
<rect x="462.34" y="808.92" width="3.3" height="7.84"/>
<rect x="446.3" y="808.92" width="19.34" height="5.2"/>
<rect x="443.3" y="808.82" width="3.6" height="5.4"/>
<rect x="462.34" y="816.76" width="3.3" height="7.84"/>
<rect x="446.3" y="819.39" width="19.34" height="5.2"/>
<rect x="443.3" y="819.29" width="3.6" height="5.4"/>
<rect x="478.43" y="798.45" width="3.3" height="10.45"/>
<rect x="446.3" y="798.45" width="35.43" height="5.2"/>
<rect x="443.3" y="798.35" width="3.6" height="5.4"/>
<rect x="478.43" y="808.9" width="3.3" height="10.45"/>
<rect x="462.34" y="814.16" width="19.39" height="5.2"/>
<rect x="494.52" y="774.88" width="3.3" height="18.31"/>
<rect x="478.43" y="774.88" width="19.39" height="5.2"/>
<rect x="494.52" y="793.19" width="3.3" height="18.31"/>
<rect x="478.43" y="806.3" width="19.39" height="5.2"/>
<rect x="510.61" y="756.56" width="3.3" height="19.62"/>
<rect x="446.3" y="756.56" width="67.61" height="5.2"/>
<rect x="443.3" y="756.46" width="3.6" height="5.4"/>
<rect x="510.61" y="776.17" width="3.3" height="19.62"/>
<rect x="494.52" y="790.59" width="19.39" height="5.2"/>
<rect x="526.7" y="732.99" width="3.3" height="22.89"/>
<rect x="478.43" y="732.99" width="51.57" height="5.2"/>
<rect x="526.7" y="755.88" width="3.3" height="22.89"/>
<rect x="510.61" y="773.57" width="19.39" height="5.2"/>
<rect x="462.34" y="829.87" width="3.3" height="7.84"/>
<rect x="446.3" y="829.87" width="19.34" height="5.2"/>
<rect x="443.3" y="829.77" width="3.6" height="5.4"/>
<rect x="462.34" y="837.7" width="3.3" height="7.84"/>
<rect x="446.3" y="840.34" width="19.34" height="5.2"/>
<rect x="443.3" y="840.24" width="3.6" height="5.4"/>
<rect x="462.34" y="861.29" width="3.3" height="7.84"/>
<rect x="446.3" y="861.29" width="19.34" height="5.2"/>
<rect x="443.3" y="861.19" width="3.6" height="5.4"/>
<rect x="462.34" y="869.12" width="3.3" height="7.84"/>
<rect x="446.3" y="871.76" width="19.34" height="5.2"/>
<rect x="443.3" y="871.66" width="3.6" height="5.4"/>
<rect x="462.34" y="882.23" width="3.3" height="7.84"/>
<rect x="446.3" y="882.23" width="19.34" height="5.2"/>
<rect x="443.3" y="882.13" width="3.6" height="5.4"/>
<rect x="462.34" y="890.07" width="3.3" height="7.84"/>
<rect x="446.3" y="892.71" width="19.34" height="5.2"/>
<rect x="443.3" y="892.61" width="3.6" height="5.4"/>
<rect x="478.43" y="866.52" width="3.3" height="13.07"/>
<rect x="462.34" y="866.52" width="19.39" height="5.2"/>
<rect x="478.43" y="879.6" width="3.3" height="13.07"/>
<rect x="462.34" y="887.47" width="19.39" height="5.2"/>
<rect x="462.34" y="903.18" width="3.3" height="7.84"/>
<rect x="446.3" y="903.18" width="19.34" height="5.2"/>
<rect x="443.3" y="903.08" width="3.6" height="5.4"/>
<rect x="462.34" y="911.01" width="3.3" height="7.84"/>
<rect x="446.3" y="913.65" width="19.34" height="5.2"/>
<rect x="443.3" y="913.55" width="3.6" height="5.4"/>
<rect x="462.34" y="934.6" width="3.3" height="7.84"/>
<rect x="446.3" y="934.6" width="19.34" height="5.2"/>
<rect x="443.3" y="934.5" width="3.6" height="5.4"/>
<rect x="462.34" y="942.43" width="3.3" height="7.84"/>
<rect x="446.3" y="945.07" width="19.34" height="5.2"/>
<rect x="443.3" y="944.97" width="3.6" height="5.4"/>
<rect x="478.43" y="924.12" width="3.3" height="10.45"/>
<rect x="446.3" y="924.12" width="35.43" height="5.2"/>
<rect x="443.3" y="924.02" width="3.6" height="5.4"/>
<rect x="478.43" y="934.58" width="3.3" height="10.45"/>
<rect x="462.34" y="939.83" width="19.39" height="5.2"/>
<rect x="494.52" y="908.41" width="3.3" height="14.38"/>
<rect x="462.34" y="908.41" width="35.48" height="5.2"/>
<rect x="494.52" y="922.8" width="3.3" height="14.38"/>
<rect x="478.43" y="931.98" width="19.39" height="5.2"/>
<rect x="510.61" y="877" width="3.3" height="24.2"/>
<rect x="478.43" y="877" width="35.48" height="5.2"/>
<rect x="510.61" y="901.2" width="3.3" height="24.2"/>
<rect x="494.52" y="920.2" width="19.39" height="5.2"/>
<rect x="526.7" y="850.81" width="3.3" height="26.49"/>
<rect x="446.3" y="850.81" width="83.7" height="5.2"/>
<rect x="443.3" y="850.71" width="3.6" height="5.4"/>
<rect x="526.7" y="877.3" width="3.3" height="26.49"/>
<rect x="510.61" y="898.6" width="19.39" height="5.2"/>
<rect x="542.79" y="835.1" width="3.3" height="22.4"/>
<rect x="462.34" y="835.1" width="83.75" height="5.2"/>
<rect x="542.79" y="857.5" width="3.3" height="22.4"/>
<rect x="526.7" y="874.7" width="19.39" height="5.2"/>
<rect x="558.88" y="753.28" width="3.3" height="53.41"/>
<rect x="526.7" y="753.28" width="35.48" height="5.2"/>
<rect x="558.88" y="806.69" width="3.3" height="53.41"/>
<rect x="542.79" y="854.9" width="19.39" height="5.2"/>
<rect x="574.97" y="634.32" width="3.3" height="87.49"/>
<rect x="542.79" y="634.32" width="35.48" height="5.2"/>
<rect x="574.97" y="721.81" width="3.3" height="87.49"/>
<rect x="558.88" y="804.09" width="19.39" height="5.2"/>
<rect x="591.06" y="455.29" width="3.3" height="134.56"/>
<rect x="542.79" y="455.29" width="51.57" height="5.2"/>
<rect x="591.06" y="589.85" width="3.3" height="134.56"/>
<rect x="574.97" y="719.21" width="19.39" height="5.2"/>
<rect x="607.15" y="354.65" width="3.3" height="118.9"/>
<rect x="494.52" y="354.65" width="115.93" height="5.2"/>
<rect x="607.15" y="473.55" width="3.3" height="118.9"/>
<rect x="591.06" y="587.25" width="19.39" height="5.2"/>
<rect x="655.42" y="110.23" width="3.3" height="182.96"/>
<rect x="639.33" y="110.23" width="19.39" height="5.2"/>
<rect x="655.42" y="293.19" width="3.3" height="182.96"/>
<rect x="607.15" y="470.95" width="51.57" height="5.2"/>
<rect x="671.51" y="60.1" width="3.3" height="117.85"/>
<rect x="462.34" y="60.1" width="212.47" height="5.2"/>
<rect x="671.51" y="177.95" width="3.3" height="117.85"/>
<rect x="655.42" y="290.59" width="19.39" height="5.2"/>
<rect x="687.6" y="12.32" width="3.3" height="84.11"/>
<rect x="510.61" y="12.32" width="180.29" height="5.2"/>
<rect x="687.6" y="96.43" width="3.3" height="84.11"/>
<rect x="671.51" y="175.35" width="19.39" height="5.2"/>
<rect x="687.6" y="93.83" width="16.4" height="5.2"/>
</g><g>
<rect x="463.24" y="34.82" width="1.5" height="6.04" fill="#ffc800"/>
<rect x="447.2" y="34.82" width="17.54" height="3.4" fill="#ffc800"/>
<rect x="444.2" y="34.72" width="1.8" height="3.6" fill="#ffc800"/>
<rect x="463.24" y="42.66" width="1.5" height="6.04" fill="#c8641e"/>
<rect x="447.2" y="45.29" width="17.54" height="3.4" fill="#c8641e"/>
<rect x="444.2" y="45.19" width="1.8" height="3.6" fill="#c8641e"/>
<rect x="479.33" y="24.35" width="1.5" height="8.65" fill="#ffc800"/>
<rect x="447.2" y="24.35" width="33.63" height="3.4" fill="#ffc800"/>
<rect x="444.2" y="24.25" width="1.8" height="3.6" fill="#ffc800"/>
<rect x="479.33" y="34.8" width="1.5" height="8.65" fill="#ffc800"/>
<rect x="463.24" y="40.06" width="17.59" height="3.4" fill="#ffc800"/>
<rect x="495.42" y="13.87" width="1.5" height="9.96" fill="#64ff00"/>
<rect x="447.2" y="13.87" width="49.72" height="3.4" fill="#64ff00"/>
<rect x="444.2" y="13.77" width="1.8" height="3.6" fill="#64ff00"/>
<rect x="495.42" y="25.64" width="1.5" height="9.96" fill="#d2ff00"/>
<rect x="479.33" y="32.2" width="17.59" height="3.4" fill="#d2ff00"/>
<rect x="511.51" y="3.4" width="1.5" height="10.62" fill="#0a5af8"/>
<rect x="447.2" y="3.4" width="65.81" height="3.4" fill="#0a5af8"/>
<rect x="444.2" y="3.3" width="1.8" height="3.6" fill="#0a5af8"/>
<rect x="511.51" y="15.82" width="1.5" height="10.62" fill="#64ff00"/>
<rect x="495.42" y="23.04" width="17.59" height="3.4" fill="#64ff00"/>
<rect x="463.24" y="55.77" width="1.5" height="6.04" fill="#b41e0a"/>
<rect x="447.2" y="55.77" width="17.54" height="3.4" fill="#b41e0a"/>
<rect x="444.2" y="55.66" width="1.8" height="3.6" fill="#b41e0a"/>
<rect x="463.24" y="63.6" width="1.5" height="6.04" fill="#64ff00"/>
<rect x="447.2" y="66.24" width="17.54" height="3.4" fill="#64ff00"/>
<rect x="444.2" y="66.14" width="1.8" height="3.6" fill="#64ff00"/>
<rect x="463.24" y="76.71" width="1.5" height="6.04" fill="#64ff00"/>
<rect x="447.2" y="76.71" width="17.54" height="3.4" fill="#64ff00"/>
<rect x="444.2" y="76.61" width="1.8" height="3.6" fill="#64ff00"/>
<rect x="463.24" y="84.55" width="1.5" height="6.04" fill="#00ff00"/>
<rect x="447.2" y="87.18" width="17.54" height="3.4" fill="#00ff00"/>
<rect x="444.2" y="87.08" width="1.8" height="3.6" fill="#00ff00"/>
<rect x="463.24" y="97.66" width="1.5" height="6.04" fill="#ffc800"/>
<rect x="447.2" y="97.66" width="17.54" height="3.4" fill="#ffc800"/>
<rect x="444.2" y="97.56" width="1.8" height="3.6" fill="#ffc800"/>
<rect x="463.24" y="105.49" width="1.5" height="6.04" fill="#c8641e"/>
<rect x="447.2" y="108.13" width="17.54" height="3.4" fill="#c8641e"/>
<rect x="444.2" y="108.03" width="1.8" height="3.6" fill="#c8641e"/>
<rect x="463.24" y="129.08" width="1.5" height="6.04" fill="#d2ff00"/>
<rect x="447.2" y="129.08" width="17.54" height="3.4" fill="#d2ff00"/>
<rect x="444.2" y="128.98" width="1.8" height="3.6" fill="#d2ff00"/>
<rect x="463.24" y="136.91" width="1.5" height="6.04" fill="#64ff00"/>
<rect x="447.2" y="139.55" width="17.54" height="3.4" fill="#64ff00"/>
<rect x="444.2" y="139.45" width="1.8" height="3.6" fill="#64ff00"/>
<rect x="463.24" y="160.5" width="1.5" height="6.04" fill="#64ff00"/>
<rect x="447.2" y="160.5" width="17.54" height="3.4" fill="#64ff00"/>
<rect x="444.2" y="160.4" width="1.8" height="3.6" fill="#64ff00"/>
<rect x="463.24" y="168.33" width="1.5" height="6.04" fill="#d2ff00"/>
<rect x="447.2" y="170.97" width="17.54" height="3.4" fill="#d2ff00"/>
<rect x="444.2" y="170.87" width="1.8" height="3.6" fill="#d2ff00"/>
<rect x="479.33" y="150.02" width="1.5" height="8.65" fill="#d2ff00"/>
<rect x="447.2" y="150.02" width="33.63" height="3.4" fill="#d2ff00"/>
<rect x="444.2" y="149.92" width="1.8" height="3.6" fill="#d2ff00"/>
<rect x="479.33" y="160.48" width="1.5" height="8.65" fill="#d2ff00"/>
<rect x="463.24" y="165.73" width="17.59" height="3.4" fill="#d2ff00"/>
<rect x="495.42" y="134.31" width="1.5" height="12.58" fill="#d2ff00"/>
<rect x="463.24" y="134.31" width="33.68" height="3.4" fill="#d2ff00"/>
<rect x="495.42" y="148.69" width="1.5" height="12.58" fill="#d2ff00"/>
<rect x="479.33" y="157.88" width="17.59" height="3.4" fill="#d2ff00"/>
<rect x="511.51" y="118.6" width="1.5" height="14.55" fill="#64ff00"/>
<rect x="447.2" y="118.6" width="65.81" height="3.4" fill="#64ff00"/>
<rect x="444.2" y="118.5" width="1.8" height="3.6" fill="#64ff00"/>
<rect x="511.51" y="134.95" width="1.5" height="14.55" fill="#d2ff00"/>
<rect x="495.42" y="146.09" width="17.59" height="3.4" fill="#d2ff00"/>
<rect x="463.24" y="223.33" width="1.5" height="6.04" fill="#64ff00"/>
<rect x="447.2" y="223.33" width="17.54" height="3.4" fill="#64ff00"/>
<rect x="444.2" y="223.23" width="1.8" height="3.6" fill="#64ff00"/>
<rect x="463.24" y="231.17" width="1.5" height="6.04" fill="#d2ff00"/>
<rect x="447.2" y="233.81" width="17.54" height="3.4" fill="#d2ff00"/>
<rect x="444.2" y="233.71" width="1.8" height="3.6" fill="#d2ff00"/>
<rect x="479.33" y="212.86" width="1.5" height="8.65" fill="#64ff00"/>
<rect x="447.2" y="212.86" width="33.63" height="3.4" fill="#64ff00"/>
<rect x="444.2" y="212.76" width="1.8" height="3.6" fill="#64ff00"/>
<rect x="479.33" y="223.31" width="1.5" height="8.65" fill="#64ff00"/>
<rect x="463.24" y="228.57" width="17.59" height="3.4" fill="#64ff00"/>
<rect x="495.42" y="202.39" width="1.5" height="9.96" fill="#64ff00"/>
<rect x="447.2" y="202.39" width="49.72" height="3.4" fill="#64ff00"/>
<rect x="444.2" y="202.29" width="1.8" height="3.6" fill="#64ff00"/>
<rect x="495.42" y="214.15" width="1.5" height="9.96" fill="#64ff00"/>
<rect x="479.33" y="220.71" width="17.59" height="3.4" fill="#64ff00"/>
<rect x="511.51" y="191.91" width="1.5" height="10.62" fill="#64ff00"/>
<rect x="447.2" y="191.91" width="65.81" height="3.4" fill="#64ff00"/>
<rect x="444.2" y="191.81" width="1.8" height="3.6" fill="#64ff00"/>
<rect x="511.51" y="204.33" width="1.5" height="10.62" fill="#64ff00"/>
<rect x="495.42" y="211.55" width="17.59" height="3.4" fill="#64ff00"/>
<rect x="527.6" y="181.44" width="1.5" height="10.95" fill="#d2ff00"/>
<rect x="447.2" y="181.44" width="81.9" height="3.4" fill="#d2ff00"/>
<rect x="444.2" y="181.34" width="1.8" height="3.6" fill="#d2ff00"/>
<rect x="527.6" y="194.19" width="1.5" height="10.95" fill="#64ff00"/>
<rect x="511.51" y="201.73" width="17.59" height="3.4" fill="#64ff00"/>
<rect x="463.24" y="317.59" width="1.5" height="6.04" fill="#64ff00"/>
<rect x="447.2" y="317.59" width="17.54" height="3.4" fill="#64ff00"/>
<rect x="444.2" y="317.49" width="1.8" height="3.6" fill="#64ff00"/>
<rect x="463.24" y="325.43" width="1.5" height="6.04" fill="#d2ff00"/>
<rect x="447.2" y="328.06" width="17.54" height="3.4" fill="#d2ff00"/>
<rect x="444.2" y="327.96" width="1.8" height="3.6" fill="#d2ff00"/>
<rect x="479.33" y="307.12" width="1.5" height="8.65" fill="#64ff00"/>
<rect x="447.2" y="307.12" width="33.63" height="3.4" fill="#64ff00"/>
<rect x="444.2" y="307.02" width="1.8" height="3.6" fill="#64ff00"/>
<rect x="479.33" y="317.57" width="1.5" height="8.65" fill="#64ff00"/>
<rect x="463.24" y="322.83" width="17.59" height="3.4" fill="#64ff00"/>
<rect x="495.42" y="296.64" width="1.5" height="9.96" fill="#d2ff00"/>
<rect x="447.2" y="296.64" width="49.72" height="3.4" fill="#d2ff00"/>
<rect x="444.2" y="296.54" width="1.8" height="3.6" fill="#d2ff00"/>
<rect x="495.42" y="308.41" width="1.5" height="9.96" fill="#64ff00"/>
<rect x="479.33" y="314.97" width="17.59" height="3.4" fill="#64ff00"/>
<rect x="511.51" y="286.17" width="1.5" height="10.62" fill="#00ff5f"/>
<rect x="447.2" y="286.17" width="65.81" height="3.4" fill="#00ff5f"/>
<rect x="444.2" y="286.07" width="1.8" height="3.6" fill="#00ff5f"/>
<rect x="511.51" y="298.59" width="1.5" height="10.62" fill="#64ff00"/>
<rect x="495.42" y="305.81" width="17.59" height="3.4" fill="#64ff00"/>
<rect x="527.6" y="275.7" width="1.5" height="10.95" fill="#d2ff00"/>
<rect x="447.2" y="275.7" width="81.9" height="3.4" fill="#d2ff00"/>
<rect x="444.2" y="275.6" width="1.8" height="3.6" fill="#d2ff00"/>
<rect x="527.6" y="288.44" width="1.5" height="10.95" fill="#00ff00"/>
<rect x="511.51" y="295.99" width="17.59" height="3.4" fill="#00ff00"/>
<rect x="543.69" y="265.23" width="1.5" height="11.11" fill="#00ff00"/>
<rect x="447.2" y="265.23" width="97.99" height="3.4" fill="#00ff00"/>
<rect x="444.2" y="265.12" width="1.8" height="3.6" fill="#00ff00"/>
<rect x="543.69" y="278.13" width="1.5" height="11.11" fill="#64ff00"/>
<rect x="527.6" y="285.84" width="17.59" height="3.4" fill="#64ff00"/>
<rect x="559.78" y="254.75" width="1.5" height="11.19" fill="#d2ff00"/>
<rect x="447.2" y="254.75" width="114.08" height="3.4" fill="#d2ff00"/>
<rect x="444.2" y="254.65" width="1.8" height="3.6" fill="#d2ff00"/>
<rect x="559.78" y="267.74" width="1.5" height="11.19" fill="#64ff00"/>
<rect x="543.69" y="275.53" width="17.59" height="3.4" fill="#64ff00"/>
<rect x="575.87" y="244.28" width="1.5" height="11.23" fill="#64ff00"/>
<rect x="447.2" y="244.28" width="130.17" height="3.4" fill="#64ff00"/>
<rect x="444.2" y="244.18" width="1.8" height="3.6" fill="#64ff00"/>
<rect x="575.87" y="257.31" width="1.5" height="11.23" fill="#d2ff00"/>
<rect x="559.78" y="265.14" width="17.59" height="3.4" fill="#d2ff00"/>
<rect x="591.96" y="191.59" width="1.5" height="32.36" fill="#d2ff00"/>
<rect x="527.6" y="191.59" width="65.86" height="3.4" fill="#d2ff00"/>
<rect x="591.96" y="225.75" width="1.5" height="32.36" fill="#d2ff00"/>
<rect x="575.87" y="254.71" width="17.59" height="3.4" fill="#d2ff00"/>
<rect x="608.05" y="132.35" width="1.5" height="46.2" fill="#d2ff00"/>
<rect x="511.51" y="132.35" width="98.04" height="3.4" fill="#d2ff00"/>
<rect x="608.05" y="180.35" width="1.5" height="46.2" fill="#d2ff00"/>
<rect x="591.96" y="223.15" width="17.59" height="3.4" fill="#d2ff00"/>
<rect x="624.14" y="102.89" width="1.5" height="38.23" fill="#ffc800"/>
<rect x="463.24" y="102.89" width="162.4" height="3.4" fill="#ffc800"/>
<rect x="624.14" y="142.92" width="1.5" height="38.23" fill="#d2ff00"/>
<rect x="608.05" y="177.75" width="17.59" height="3.4" fill="#d2ff00"/>
<rect x="640.23" y="81.95" width="1.5" height="29.99" fill="#64ff00"/>
<rect x="463.24" y="81.95" width="178.49" height="3.4" fill="#64ff00"/>
<rect x="640.23" y="113.73" width="1.5" height="29.99" fill="#d2ff00"/>
<rect x="624.14" y="140.32" width="17.59" height="3.4" fill="#d2ff00"/>
<rect x="463.24" y="338.54" width="1.5" height="6.04" fill="#d2ff00"/>
<rect x="447.2" y="338.54" width="17.54" height="3.4" fill="#d2ff00"/>
<rect x="444.2" y="338.44" width="1.8" height="3.6" fill="#d2ff00"/>
<rect x="463.24" y="346.37" width="1.5" height="6.04" fill="#c8641e"/>
<rect x="447.2" y="349.01" width="17.54" height="3.4" fill="#c8641e"/>
<rect x="444.2" y="348.91" width="1.8" height="3.6" fill="#c8641e"/>
<rect x="463.24" y="369.95" width="1.5" height="6.04" fill="#00ffd2"/>
<rect x="447.2" y="369.95" width="17.54" height="3.4" fill="#00ffd2"/>
<rect x="444.2" y="369.85" width="1.8" height="3.6" fill="#00ffd2"/>
<rect x="463.24" y="377.79" width="1.5" height="6.04" fill="#14c8ff"/>
<rect x="447.2" y="380.43" width="17.54" height="3.4" fill="#14c8ff"/>
<rect x="444.2" y="380.33" width="1.8" height="3.6" fill="#14c8ff"/>
<rect x="479.33" y="359.48" width="1.5" height="8.65" fill="#00ffd2"/>
<rect x="447.2" y="359.48" width="33.63" height="3.4" fill="#00ffd2"/>
<rect x="444.2" y="359.38" width="1.8" height="3.6" fill="#00ffd2"/>
<rect x="479.33" y="369.94" width="1.5" height="8.65" fill="#00ffd2"/>
<rect x="463.24" y="375.19" width="17.59" height="3.4" fill="#00ffd2"/>
<rect x="495.42" y="343.77" width="1.5" height="12.58" fill="#d2ff00"/>
<rect x="463.24" y="343.77" width="33.68" height="3.4" fill="#d2ff00"/>
<rect x="495.42" y="358.15" width="1.5" height="12.58" fill="#00ff5f"/>
<rect x="479.33" y="367.34" width="17.59" height="3.4" fill="#00ff5f"/>
<rect x="463.24" y="401.37" width="1.5" height="6.04" fill="#14c8ff"/>
<rect x="447.2" y="401.37" width="17.54" height="3.4" fill="#14c8ff"/>
<rect x="444.2" y="401.27" width="1.8" height="3.6" fill="#14c8ff"/>
<rect x="463.24" y="409.21" width="1.5" height="6.04" fill="#14c8ff"/>
<rect x="447.2" y="411.85" width="17.54" height="3.4" fill="#14c8ff"/>
<rect x="444.2" y="411.75" width="1.8" height="3.6" fill="#14c8ff"/>
<rect x="479.33" y="390.9" width="1.5" height="8.65" fill="#00ff5f"/>
<rect x="447.2" y="390.9" width="33.63" height="3.4" fill="#00ff5f"/>
<rect x="444.2" y="390.8" width="1.8" height="3.6" fill="#00ff5f"/>
<rect x="479.33" y="401.36" width="1.5" height="8.65" fill="#00ffd2"/>
<rect x="463.24" y="406.61" width="17.59" height="3.4" fill="#00ffd2"/>
<rect x="463.24" y="432.79" width="1.5" height="6.04" fill="#d2ff00"/>
<rect x="447.2" y="432.79" width="17.54" height="3.4" fill="#d2ff00"/>
<rect x="444.2" y="432.69" width="1.8" height="3.6" fill="#d2ff00"/>
<rect x="463.24" y="440.63" width="1.5" height="6.04" fill="#64ff00"/>
<rect x="447.2" y="443.27" width="17.54" height="3.4" fill="#64ff00"/>
<rect x="444.2" y="443.17" width="1.8" height="3.6" fill="#64ff00"/>
<rect x="479.33" y="422.32" width="1.5" height="8.65" fill="#d2ff00"/>
<rect x="447.2" y="422.32" width="33.63" height="3.4" fill="#d2ff00"/>
<rect x="444.2" y="422.22" width="1.8" height="3.6" fill="#d2ff00"/>
<rect x="479.33" y="432.77" width="1.5" height="8.65" fill="#64ff00"/>
<rect x="463.24" y="438.03" width="17.59" height="3.4" fill="#64ff00"/>
<rect x="495.42" y="398.76" width="1.5" height="16.51" fill="#00ff5f"/>
<rect x="479.33" y="398.76" width="17.59" height="3.4" fill="#00ff5f"/>
<rect x="495.42" y="417.07" width="1.5" height="16.51" fill="#64ff00"/>
<rect x="479.33" y="430.17" width="17.59" height="3.4" fill="#64ff00"/>
<rect x="463.24" y="474.69" width="1.5" height="6.04" fill="#14c8ff"/>
<rect x="447.2" y="474.69" width="17.54" height="3.4" fill="#14c8ff"/>
<rect x="444.2" y="474.58" width="1.8" height="3.6" fill="#14c8ff"/>
<rect x="463.24" y="482.52" width="1.5" height="6.04" fill="#00ffd2"/>
<rect x="447.2" y="485.16" width="17.54" height="3.4" fill="#00ffd2"/>
<rect x="444.2" y="485.06" width="1.8" height="3.6" fill="#00ffd2"/>
<rect x="479.33" y="464.21" width="1.5" height="8.65" fill="#00ffd2"/>
<rect x="447.2" y="464.21" width="33.63" height="3.4" fill="#00ffd2"/>
<rect x="444.2" y="464.11" width="1.8" height="3.6" fill="#00ffd2"/>
<rect x="479.33" y="474.67" width="1.5" height="8.65" fill="#00ffd2"/>
<rect x="463.24" y="479.92" width="17.59" height="3.4" fill="#00ffd2"/>
<rect x="495.42" y="453.74" width="1.5" height="9.96" fill="#00ffd2"/>
<rect x="447.2" y="453.74" width="49.72" height="3.4" fill="#00ffd2"/>
<rect x="444.2" y="453.64" width="1.8" height="3.6" fill="#00ffd2"/>
<rect x="495.42" y="465.5" width="1.5" height="9.96" fill="#00ffd2"/>
<rect x="479.33" y="472.07" width="17.59" height="3.4" fill="#00ffd2"/>
<rect x="463.24" y="516.58" width="1.5" height="6.04" fill="#00ffd2"/>
<rect x="447.2" y="516.58" width="17.54" height="3.4" fill="#00ffd2"/>
<rect x="444.2" y="516.48" width="1.8" height="3.6" fill="#00ffd2"/>
<rect x="463.24" y="524.41" width="1.5" height="6.04" fill="#0000f5"/>
<rect x="447.2" y="527.05" width="17.54" height="3.4" fill="#0000f5"/>
<rect x="444.2" y="526.95" width="1.8" height="3.6" fill="#0000f5"/>
<rect x="479.33" y="506.1" width="1.5" height="8.65" fill="#14c8ff"/>
<rect x="447.2" y="506.1" width="33.63" height="3.4" fill="#14c8ff"/>
<rect x="444.2" y="506" width="1.8" height="3.6" fill="#14c8ff"/>
<rect x="479.33" y="516.56" width="1.5" height="8.65" fill="#14c8ff"/>
<rect x="463.24" y="521.81" width="17.59" height="3.4" fill="#14c8ff"/>
<rect x="495.42" y="495.63" width="1.5" height="9.96" fill="#14c8ff"/>
<rect x="447.2" y="495.63" width="49.72" height="3.4" fill="#14c8ff"/>
<rect x="444.2" y="495.53" width="1.8" height="3.6" fill="#14c8ff"/>
<rect x="495.42" y="507.39" width="1.5" height="9.96" fill="#14c8ff"/>
<rect x="479.33" y="513.96" width="17.59" height="3.4" fill="#14c8ff"/>
<rect x="463.24" y="548" width="1.5" height="6.04" fill="#0a5af8"/>
<rect x="447.2" y="548" width="17.54" height="3.4" fill="#0a5af8"/>
<rect x="444.2" y="547.9" width="1.8" height="3.6" fill="#0a5af8"/>
<rect x="463.24" y="555.83" width="1.5" height="6.04" fill="#0000f5"/>
<rect x="447.2" y="558.47" width="17.54" height="3.4" fill="#0000f5"/>
<rect x="444.2" y="558.37" width="1.8" height="3.6" fill="#0000f5"/>
<rect x="479.33" y="537.52" width="1.5" height="8.65" fill="#0a5af8"/>
<rect x="447.2" y="537.52" width="33.63" height="3.4" fill="#0a5af8"/>
<rect x="444.2" y="537.42" width="1.8" height="3.6" fill="#0a5af8"/>
<rect x="479.33" y="547.98" width="1.5" height="8.65" fill="#0a5af8"/>
<rect x="463.24" y="553.23" width="17.59" height="3.4" fill="#0a5af8"/>
<rect x="463.24" y="579.41" width="1.5" height="6.04" fill="#0a5af8"/>
<rect x="447.2" y="579.41" width="17.54" height="3.4" fill="#0a5af8"/>
<rect x="444.2" y="579.31" width="1.8" height="3.6" fill="#0a5af8"/>
<rect x="463.24" y="587.25" width="1.5" height="6.04" fill="#14c8ff"/>
<rect x="447.2" y="589.89" width="17.54" height="3.4" fill="#14c8ff"/>
<rect x="444.2" y="589.79" width="1.8" height="3.6" fill="#14c8ff"/>
<rect x="479.33" y="568.94" width="1.5" height="8.65" fill="#0a5af8"/>
<rect x="447.2" y="568.94" width="33.63" height="3.4" fill="#0a5af8"/>
<rect x="444.2" y="568.84" width="1.8" height="3.6" fill="#0a5af8"/>
<rect x="479.33" y="579.4" width="1.5" height="8.65" fill="#0a5af8"/>
<rect x="463.24" y="584.65" width="17.59" height="3.4" fill="#0a5af8"/>
<rect x="495.42" y="545.38" width="1.5" height="16.51" fill="#0a5af8"/>
<rect x="479.33" y="545.38" width="17.59" height="3.4" fill="#0a5af8"/>
<rect x="495.42" y="563.69" width="1.5" height="16.51" fill="#0a5af8"/>
<rect x="479.33" y="576.8" width="17.59" height="3.4" fill="#0a5af8"/>
<rect x="511.51" y="504.79" width="1.5" height="28.95" fill="#14c8ff"/>
<rect x="495.42" y="504.79" width="17.59" height="3.4" fill="#14c8ff"/>
<rect x="511.51" y="535.54" width="1.5" height="28.95" fill="#14c8ff"/>
<rect x="495.42" y="561.09" width="17.59" height="3.4" fill="#14c8ff"/>
<rect x="527.6" y="462.9" width="1.5" height="35.82" fill="#00ffd2"/>
<rect x="495.42" y="462.9" width="33.68" height="3.4" fill="#00ffd2"/>
<rect x="527.6" y="500.52" width="1.5" height="35.82" fill="#14c8ff"/>
<rect x="511.51" y="532.94" width="17.59" height="3.4" fill="#14c8ff"/>
<rect x="543.69" y="414.47" width="1.5" height="42.53" fill="#00ff5f"/>
<rect x="495.42" y="414.47" width="49.77" height="3.4" fill="#00ff5f"/>
<rect x="543.69" y="458.79" width="1.5" height="42.53" fill="#00ffd2"/>
<rect x="527.6" y="497.92" width="17.59" height="3.4" fill="#00ffd2"/>
<rect x="463.24" y="610.83" width="1.5" height="6.04" fill="#0a5af8"/>
<rect x="447.2" y="610.83" width="17.54" height="3.4" fill="#0a5af8"/>
<rect x="444.2" y="610.73" width="1.8" height="3.6" fill="#0a5af8"/>
<rect x="463.24" y="618.67" width="1.5" height="6.04" fill="#0000f5"/>
<rect x="447.2" y="621.31" width="17.54" height="3.4" fill="#0000f5"/>
<rect x="444.2" y="621.21" width="1.8" height="3.6" fill="#0000f5"/>
<rect x="479.33" y="600.36" width="1.5" height="8.65" fill="#0000f5"/>
<rect x="447.2" y="600.36" width="33.63" height="3.4" fill="#0000f5"/>
<rect x="444.2" y="600.26" width="1.8" height="3.6" fill="#0000f5"/>
<rect x="479.33" y="610.82" width="1.5" height="8.65" fill="#0000f5"/>
<rect x="463.24" y="616.07" width="17.59" height="3.4" fill="#0000f5"/>
<rect x="463.24" y="652.73" width="1.5" height="6.04" fill="#0000f5"/>
<rect x="447.2" y="652.73" width="17.54" height="3.4" fill="#0000f5"/>
<rect x="444.2" y="652.63" width="1.8" height="3.6" fill="#0000f5"/>
<rect x="463.24" y="660.56" width="1.5" height="6.04" fill="#0000f5"/>
<rect x="447.2" y="663.2" width="17.54" height="3.4" fill="#0000f5"/>
<rect x="444.2" y="663.1" width="1.8" height="3.6" fill="#0000f5"/>
<rect x="479.33" y="642.25" width="1.5" height="8.65" fill="#0a5af8"/>
<rect x="447.2" y="642.25" width="33.63" height="3.4" fill="#0a5af8"/>
<rect x="444.2" y="642.15" width="1.8" height="3.6" fill="#0a5af8"/>
<rect x="479.33" y="652.71" width="1.5" height="8.65" fill="#0000f5"/>
<rect x="463.24" y="657.96" width="17.59" height="3.4" fill="#0000f5"/>
<rect x="495.42" y="631.78" width="1.5" height="9.96" fill="#0a5af8"/>
<rect x="447.2" y="631.78" width="49.72" height="3.4" fill="#0a5af8"/>
<rect x="444.2" y="631.68" width="1.8" height="3.6" fill="#0a5af8"/>
<rect x="495.42" y="643.54" width="1.5" height="9.96" fill="#0a5af8"/>
<rect x="479.33" y="650.11" width="17.59" height="3.4" fill="#0a5af8"/>
<rect x="463.24" y="705.09" width="1.5" height="6.04" fill="#0a5af8"/>
<rect x="447.2" y="705.09" width="17.54" height="3.4" fill="#0a5af8"/>
<rect x="444.2" y="704.99" width="1.8" height="3.6" fill="#0a5af8"/>
<rect x="463.24" y="712.93" width="1.5" height="6.04" fill="#0000f5"/>
<rect x="447.2" y="715.56" width="17.54" height="3.4" fill="#0000f5"/>
<rect x="444.2" y="715.46" width="1.8" height="3.6" fill="#0000f5"/>
<rect x="479.33" y="694.62" width="1.5" height="8.65" fill="#0a5af8"/>
<rect x="447.2" y="694.62" width="33.63" height="3.4" fill="#0a5af8"/>
<rect x="444.2" y="694.52" width="1.8" height="3.6" fill="#0a5af8"/>
<rect x="479.33" y="705.07" width="1.5" height="8.65" fill="#0a5af8"/>
<rect x="463.24" y="710.33" width="17.59" height="3.4" fill="#0a5af8"/>
<rect x="495.42" y="684.14" width="1.5" height="9.96" fill="#0a5af8"/>
<rect x="447.2" y="684.14" width="49.72" height="3.4" fill="#0a5af8"/>
<rect x="444.2" y="684.04" width="1.8" height="3.6" fill="#0a5af8"/>
<rect x="495.42" y="695.91" width="1.5" height="9.96" fill="#0a5af8"/>
<rect x="479.33" y="702.47" width="17.59" height="3.4" fill="#0a5af8"/>
<rect x="511.51" y="673.67" width="1.5" height="10.62" fill="#0000f5"/>
<rect x="447.2" y="673.67" width="65.81" height="3.4" fill="#0000f5"/>
<rect x="444.2" y="673.57" width="1.8" height="3.6" fill="#0000f5"/>
<rect x="511.51" y="686.09" width="1.5" height="10.62" fill="#0a5af8"/>
<rect x="495.42" y="693.31" width="17.59" height="3.4" fill="#0a5af8"/>
<rect x="527.6" y="640.94" width="1.5" height="22.07" fill="#0a5af8"/>
<rect x="495.42" y="640.94" width="33.68" height="3.4" fill="#0a5af8"/>
<rect x="527.6" y="664.82" width="1.5" height="22.07" fill="#0a5af8"/>
<rect x="511.51" y="683.49" width="17.59" height="3.4" fill="#0a5af8"/>
<rect x="543.69" y="608.22" width="1.5" height="27.8" fill="#0a5af8"/>
<rect x="479.33" y="608.22" width="65.86" height="3.4" fill="#0a5af8"/>
<rect x="543.69" y="637.82" width="1.5" height="27.8" fill="#0a5af8"/>
<rect x="527.6" y="662.22" width="17.59" height="3.4" fill="#0a5af8"/>
<rect x="463.24" y="736.51" width="1.5" height="6.04" fill="#0a5af8"/>
<rect x="447.2" y="736.51" width="17.54" height="3.4" fill="#0a5af8"/>
<rect x="444.2" y="736.41" width="1.8" height="3.6" fill="#0a5af8"/>
<rect x="463.24" y="744.35" width="1.5" height="6.04" fill="#0000f5"/>
<rect x="447.2" y="746.98" width="17.54" height="3.4" fill="#0000f5"/>
<rect x="444.2" y="746.88" width="1.8" height="3.6" fill="#0000f5"/>
<rect x="479.33" y="726.04" width="1.5" height="8.65" fill="#0a5af8"/>
<rect x="447.2" y="726.04" width="33.63" height="3.4" fill="#0a5af8"/>
<rect x="444.2" y="725.94" width="1.8" height="3.6" fill="#0a5af8"/>
<rect x="479.33" y="736.49" width="1.5" height="8.65" fill="#0a5af8"/>
<rect x="463.24" y="741.75" width="17.59" height="3.4" fill="#0a5af8"/>
<rect x="463.24" y="778.4" width="1.5" height="6.04" fill="#0a5af8"/>
<rect x="447.2" y="778.4" width="17.54" height="3.4" fill="#0a5af8"/>
<rect x="444.2" y="778.3" width="1.8" height="3.6" fill="#0a5af8"/>
<rect x="463.24" y="786.24" width="1.5" height="6.04" fill="#0a5af8"/>
<rect x="447.2" y="788.88" width="17.54" height="3.4" fill="#0a5af8"/>
<rect x="444.2" y="788.77" width="1.8" height="3.6" fill="#0a5af8"/>
<rect x="479.33" y="767.93" width="1.5" height="8.65" fill="#0a5af8"/>
<rect x="447.2" y="767.93" width="33.63" height="3.4" fill="#0a5af8"/>
<rect x="444.2" y="767.83" width="1.8" height="3.6" fill="#0a5af8"/>
<rect x="479.33" y="778.38" width="1.5" height="8.65" fill="#0a5af8"/>
<rect x="463.24" y="783.64" width="17.59" height="3.4" fill="#0a5af8"/>
<rect x="463.24" y="809.82" width="1.5" height="6.04" fill="#14c8ff"/>
<rect x="447.2" y="809.82" width="17.54" height="3.4" fill="#14c8ff"/>
<rect x="444.2" y="809.72" width="1.8" height="3.6" fill="#14c8ff"/>
<rect x="463.24" y="817.66" width="1.5" height="6.04" fill="#14c8ff"/>
<rect x="447.2" y="820.29" width="17.54" height="3.4" fill="#14c8ff"/>
<rect x="444.2" y="820.19" width="1.8" height="3.6" fill="#14c8ff"/>
<rect x="479.33" y="799.35" width="1.5" height="8.65" fill="#14c8ff"/>
<rect x="447.2" y="799.35" width="33.63" height="3.4" fill="#14c8ff"/>
<rect x="444.2" y="799.25" width="1.8" height="3.6" fill="#14c8ff"/>
<rect x="479.33" y="809.8" width="1.5" height="8.65" fill="#14c8ff"/>
<rect x="463.24" y="815.06" width="17.59" height="3.4" fill="#14c8ff"/>
<rect x="495.42" y="775.78" width="1.5" height="16.51" fill="#0a5af8"/>
<rect x="479.33" y="775.78" width="17.59" height="3.4" fill="#0a5af8"/>
<rect x="495.42" y="794.09" width="1.5" height="16.51" fill="#14c8ff"/>
<rect x="479.33" y="807.2" width="17.59" height="3.4" fill="#14c8ff"/>
<rect x="511.51" y="757.46" width="1.5" height="17.82" fill="#00ffd2"/>
<rect x="447.2" y="757.46" width="65.81" height="3.4" fill="#00ffd2"/>
<rect x="444.2" y="757.36" width="1.8" height="3.6" fill="#00ffd2"/>
<rect x="511.51" y="777.07" width="1.5" height="17.82" fill="#14c8ff"/>
<rect x="495.42" y="791.49" width="17.59" height="3.4" fill="#14c8ff"/>
<rect x="527.6" y="733.89" width="1.5" height="21.09" fill="#0a5af8"/>
<rect x="479.33" y="733.89" width="49.77" height="3.4" fill="#0a5af8"/>
<rect x="527.6" y="756.78" width="1.5" height="21.09" fill="#00ffd2"/>
<rect x="511.51" y="774.47" width="17.59" height="3.4" fill="#00ffd2"/>
<rect x="463.24" y="830.77" width="1.5" height="6.04" fill="#00ff00"/>
<rect x="447.2" y="830.77" width="17.54" height="3.4" fill="#00ff00"/>
<rect x="444.2" y="830.67" width="1.8" height="3.6" fill="#00ff00"/>
<rect x="463.24" y="838.6" width="1.5" height="6.04" fill="#00ff00"/>
<rect x="447.2" y="841.24" width="17.54" height="3.4" fill="#00ff00"/>
<rect x="444.2" y="841.14" width="1.8" height="3.6" fill="#00ff00"/>
<rect x="463.24" y="862.19" width="1.5" height="6.04" fill="#14c8ff"/>
<rect x="447.2" y="862.19" width="17.54" height="3.4" fill="#14c8ff"/>
<rect x="444.2" y="862.09" width="1.8" height="3.6" fill="#14c8ff"/>
<rect x="463.24" y="870.02" width="1.5" height="6.04" fill="#00ff00"/>
<rect x="447.2" y="872.66" width="17.54" height="3.4" fill="#00ff00"/>
<rect x="444.2" y="872.56" width="1.8" height="3.6" fill="#00ff00"/>
<rect x="463.24" y="883.13" width="1.5" height="6.04" fill="#14c8ff"/>
<rect x="447.2" y="883.13" width="17.54" height="3.4" fill="#14c8ff"/>
<rect x="444.2" y="883.03" width="1.8" height="3.6" fill="#14c8ff"/>
<rect x="463.24" y="890.97" width="1.5" height="6.04" fill="#00ffd2"/>
<rect x="447.2" y="893.61" width="17.54" height="3.4" fill="#00ffd2"/>
<rect x="444.2" y="893.5" width="1.8" height="3.6" fill="#00ffd2"/>
<rect x="479.33" y="867.42" width="1.5" height="11.27" fill="#00ffd2"/>
<rect x="463.24" y="867.42" width="17.59" height="3.4" fill="#00ffd2"/>
<rect x="479.33" y="880.5" width="1.5" height="11.27" fill="#00ffd2"/>
<rect x="463.24" y="888.37" width="17.59" height="3.4" fill="#00ffd2"/>
<rect x="463.24" y="904.08" width="1.5" height="6.04" fill="#0a5af8"/>
<rect x="447.2" y="904.08" width="17.54" height="3.4" fill="#0a5af8"/>
<rect x="444.2" y="903.98" width="1.8" height="3.6" fill="#0a5af8"/>
<rect x="463.24" y="911.91" width="1.5" height="6.04" fill="#0a5af8"/>
<rect x="447.2" y="914.55" width="17.54" height="3.4" fill="#0a5af8"/>
<rect x="444.2" y="914.45" width="1.8" height="3.6" fill="#0a5af8"/>
<rect x="463.24" y="935.5" width="1.5" height="6.04" fill="#0000f5"/>
<rect x="447.2" y="935.5" width="17.54" height="3.4" fill="#0000f5"/>
<rect x="444.2" y="935.4" width="1.8" height="3.6" fill="#0000f5"/>
<rect x="463.24" y="943.33" width="1.5" height="6.04" fill="#0000f5"/>
<rect x="447.2" y="945.97" width="17.54" height="3.4" fill="#0000f5"/>
<rect x="444.2" y="945.87" width="1.8" height="3.6" fill="#0000f5"/>
<rect x="479.33" y="925.02" width="1.5" height="8.65" fill="#0000f5"/>
<rect x="447.2" y="925.02" width="33.63" height="3.4" fill="#0000f5"/>
<rect x="444.2" y="924.92" width="1.8" height="3.6" fill="#0000f5"/>
<rect x="479.33" y="935.48" width="1.5" height="8.65" fill="#0000f5"/>
<rect x="463.24" y="940.73" width="17.59" height="3.4" fill="#0000f5"/>
<rect x="495.42" y="909.31" width="1.5" height="12.58" fill="#0a5af8"/>
<rect x="463.24" y="909.31" width="33.68" height="3.4" fill="#0a5af8"/>
<rect x="495.42" y="923.7" width="1.5" height="12.58" fill="#0000f5"/>
<rect x="479.33" y="932.88" width="17.59" height="3.4" fill="#0000f5"/>
<rect x="511.51" y="877.9" width="1.5" height="22.4" fill="#00ffd2"/>
<rect x="479.33" y="877.9" width="33.68" height="3.4" fill="#00ffd2"/>
<rect x="511.51" y="902.1" width="1.5" height="22.4" fill="#0a5af8"/>
<rect x="495.42" y="921.1" width="17.59" height="3.4" fill="#0a5af8"/>
<rect x="527.6" y="851.71" width="1.5" height="24.69" fill="#00ff5f"/>
<rect x="447.2" y="851.71" width="81.9" height="3.4" fill="#00ff5f"/>
<rect x="444.2" y="851.61" width="1.8" height="3.6" fill="#00ff5f"/>
<rect x="527.6" y="878.2" width="1.5" height="24.69" fill="#14c8ff"/>
<rect x="511.51" y="899.5" width="17.59" height="3.4" fill="#14c8ff"/>
<rect x="543.69" y="836" width="1.5" height="20.6" fill="#00ff00"/>
<rect x="463.24" y="836" width="81.95" height="3.4" fill="#00ff00"/>
<rect x="543.69" y="858.4" width="1.5" height="20.6" fill="#00ffd2"/>
<rect x="527.6" y="875.6" width="17.59" height="3.4" fill="#00ffd2"/>
<rect x="559.78" y="754.18" width="1.5" height="51.61" fill="#14c8ff"/>
<rect x="527.6" y="754.18" width="33.68" height="3.4" fill="#14c8ff"/>
<rect x="559.78" y="807.59" width="1.5" height="51.61" fill="#00ff5f"/>
<rect x="543.69" y="855.8" width="17.59" height="3.4" fill="#00ff5f"/>
<rect x="575.87" y="635.22" width="1.5" height="85.69" fill="#0a5af8"/>
<rect x="543.69" y="635.22" width="33.68" height="3.4" fill="#0a5af8"/>
<rect x="575.87" y="722.71" width="1.5" height="85.69" fill="#00ffd2"/>
<rect x="559.78" y="804.99" width="17.59" height="3.4" fill="#00ffd2"/>
<rect x="591.96" y="456.19" width="1.5" height="132.76" fill="#00ff5f"/>
<rect x="543.69" y="456.19" width="49.77" height="3.4" fill="#00ff5f"/>
<rect x="591.96" y="590.75" width="1.5" height="132.76" fill="#00ffd2"/>
<rect x="575.87" y="720.11" width="17.59" height="3.4" fill="#00ffd2"/>
<rect x="608.05" y="355.55" width="1.5" height="117.1" fill="#00ff00"/>
<rect x="495.42" y="355.55" width="114.13" height="3.4" fill="#00ff00"/>
<rect x="608.05" y="474.45" width="1.5" height="117.1" fill="#00ff5f"/>
<rect x="591.96" y="588.15" width="17.59" height="3.4" fill="#00ff5f"/>
<rect x="656.32" y="111.13" width="1.5" height="181.16" fill="#64ff00"/>
<rect x="640.23" y="111.13" width="17.59" height="3.4" fill="#64ff00"/>
<rect x="656.32" y="294.09" width="1.5" height="181.16" fill="#00ff00"/>
<rect x="608.05" y="471.85" width="49.77" height="3.4" fill="#00ff00"/>
<rect x="672.41" y="61" width="1.5" height="116.05" fill="#d2ff00"/>
<rect x="463.24" y="61" width="210.67" height="3.4" fill="#d2ff00"/>
<rect x="672.41" y="178.85" width="1.5" height="116.05" fill="#64ff00"/>
<rect x="656.32" y="291.49" width="17.59" height="3.4" fill="#64ff00"/>
<rect x="688.5" y="13.22" width="1.5" height="82.31" fill="#00ff5f"/>
<rect x="511.51" y="13.22" width="178.49" height="3.4" fill="#00ff5f"/>
<rect x="688.5" y="97.33" width="1.5" height="82.31" fill="#64ff00"/>
<rect x="672.41" y="176.25" width="17.59" height="3.4" fill="#64ff00"/>
<rect x="688.5" y="94.73" width="14.6" height="3.4" fill="#00ff00"/>
</g>
<g>
<text x="20" y="106.7" text-anchor="end">-0.01</text>
<text x="693.55" y="108.13" text-anchor="start">0.59</text>
<text x="198.8" y="26.5" text-anchor="end">0.09</text>
<text x="516.56" y="26.62" text-anchor="start">0.51</text>
<text x="217.8" y="32.9" text-anchor="end">0.05</text>
<text x="501.2" y="36.3" text-anchor="start">0.66</text>
<text x="230.5" y="43.5" text-anchor="end">0.01</text>
<text x="485.6" y="44.8" text-anchor="start">0.78</text>
<text x="248.93" y="52.15" text-anchor="end">0.06</text>
<text x="468" y="53.2" text-anchor="start">0.86</text>
<text x="40.6" y="190.2" text-anchor="end">-0.11</text>
<text x="677.46" y="189.65" text-anchor="start">0.68</text>
<text x="248.93" y="73.09" text-anchor="end">-0.14</text>
<text x="468.29" y="74.4" text-anchor="start">0.78</text>
<text x="56.09" y="303.54" text-anchor="end">-0.18</text>
<text x="661.37" y="304.89" text-anchor="start">0.66</text>
<text x="71.5" y="104.7" text-anchor="end">-0.34</text>
<text x="643.7" y="104.7" text-anchor="start">0.70</text>
<text x="248.93" y="94.03" text-anchor="end">-0.39</text>
<text x="468.29" y="95.35" text-anchor="start">0.68</text>
<text x="88.23" y="152.4" text-anchor="end">-0.44</text>
<text x="629.19" y="153.72" text-anchor="start">0.76</text>
<text x="248.93" y="114.97" text-anchor="end">-0.49</text>
<text x="468.29" y="116.29" text-anchor="start">0.83</text>
<text x="104.3" y="189.82" text-anchor="end">-0.49</text>
<text x="613.1" y="191.15" text-anchor="start">0.75</text>
<text x="200.72" y="144.42" text-anchor="end">-0.54</text>
<text x="516.56" y="145.75" text-anchor="start">0.75</text>
<text x="216.79" y="158.17" text-anchor="end">-0.51</text>
<text x="500.47" y="159.49" text-anchor="start">0.75</text>
<text x="248.93" y="146.39" text-anchor="end">-0.47</text>
<text x="468.29" y="147.71" text-anchor="start">0.74</text>
<text x="232.86" y="169.95" text-anchor="end">-0.51</text>
<text x="484.38" y="171.28" text-anchor="start">0.78</text>
<text x="248.93" y="177.8" text-anchor="end">-0.51</text>
<text x="468.29" y="179.13" text-anchor="start">0.77</text>
<text x="120.37" y="235.21" text-anchor="end">-0.50</text>
<text x="597.01" y="236.55" text-anchor="start">0.75</text>
<text x="184.65" y="203.65" text-anchor="end">-0.53</text>
<text x="532.65" y="204.99" text-anchor="start">0.76</text>
<text x="200.72" y="213.79" text-anchor="end">-0.52</text>
<text x="516.56" y="215.13" text-anchor="start">0.72</text>
<text x="216.79" y="223.61" text-anchor="end">-0.58</text>
<text x="500.47" y="224.95" text-anchor="start">0.72</text>
<text x="232.86" y="232.77" text-anchor="end">-0.58</text>
<text x="484.38" y="234.11" text-anchor="start">0.71</text>
<text x="248.93" y="240.63" text-anchor="end">-0.61</text>
<text x="468.29" y="241.97" text-anchor="start">0.71</text>
<text x="136.44" y="266.76" text-anchor="end">-0.48</text>
<text x="580.92" y="268.11" text-anchor="start">0.74</text>
<text x="152.51" y="277.19" text-anchor="end">-0.49</text>
<text x="564.83" y="278.54" text-anchor="start">0.74</text>
<text x="168.58" y="287.58" text-anchor="end">-0.45</text>
<text x="548.74" y="288.93" text-anchor="start">0.70</text>
<text x="184.65" y="297.89" text-anchor="end">-0.52</text>
<text x="532.65" y="299.24" text-anchor="start">0.71</text>
<text x="200.72" y="308.03" text-anchor="end">-0.52</text>
<text x="516.56" y="309.39" text-anchor="start">0.65</text>
<text x="216.79" y="317.85" text-anchor="end">-0.55</text>
<text x="500.47" y="319.21" text-anchor="start">0.70</text>
<text x="232.86" y="327.01" text-anchor="end">-0.56</text>
<text x="484.38" y="328.37" text-anchor="start">0.71</text>
<text x="248.93" y="334.87" text-anchor="end">-0.58</text>
<text x="468.29" y="336.23" text-anchor="start">0.73</text>
<text x="104.3" y="483.86" text-anchor="end">-0.09</text>
<text x="613.1" y="485.25" text-anchor="start">0.60</text>
<text x="216.79" y="367.59" text-anchor="end">-0.15</text>
<text x="500.47" y="368.95" text-anchor="start">0.64</text>
<text x="248.93" y="355.81" text-anchor="end">-0.13</text>
<text x="468.29" y="357.17" text-anchor="start">0.79</text>
<text x="232.86" y="379.37" text-anchor="end">-0.23</text>
<text x="484.2" y="383.5" text-anchor="start">0.53</text>
<text x="248.93" y="387.22" text-anchor="end">-0.28</text>
<text x="468.29" y="388.59" text-anchor="start">0.47</text>
<text x="120.37" y="600.14" text-anchor="end">0.06</text>
<text x="597.01" y="601.55" text-anchor="start">0.51</text>
<text x="168.58" y="468.21" text-anchor="end">0.23</text>
<text x="523.1" y="459.7" text-anchor="start">0.50</text>
<text x="216.79" y="426.49" text-anchor="end">0.10</text>
<text x="502.8" y="429.2" text-anchor="start">0.56</text>
<text x="238" y="412.2" text-anchor="end">-0.05</text>
<text x="483" y="394" text-anchor="start">0.51</text>
<text x="248.93" y="418.63" text-anchor="end">-0.11</text>
<text x="468.29" y="420.01" text-anchor="start">0.42</text>
<text x="232.86" y="442.19" text-anchor="end">0.13</text>
<text x="484.38" y="443.57" text-anchor="start">0.67</text>
<text x="248.93" y="450.05" text-anchor="end">0.12</text>
<text x="468.29" y="451.43" text-anchor="start">0.71</text>
<text x="184.65" y="509.93" text-anchor="end">0.53</text>
<text x="532.65" y="511.32" text-anchor="start">0.43</text>
<text x="213.5" y="474.8" text-anchor="end">0.67</text>
<text x="500.47" y="476.3" text-anchor="start">0.43</text>
<text x="232.86" y="484.08" text-anchor="end">0.67</text>
<text x="484.38" y="485.47" text-anchor="start">0.42</text>
<text x="248.93" y="491.93" text-anchor="end">0.84</text>
<text x="468.29" y="493.32" text-anchor="start">0.42</text>
<text x="200.72" y="544.94" text-anchor="end">0.69</text>
<text x="513.8" y="554.6" text-anchor="start">0.37</text>
<text x="214.8" y="500.5" text-anchor="end">0.75</text>
<text x="500.47" y="518.19" text-anchor="start">0.35</text>
<text x="232.86" y="525.96" text-anchor="end">0.73</text>
<text x="484.38" y="527.36" text-anchor="start">0.34</text>
<text x="248.93" y="533.81" text-anchor="end">0.76</text>
<text x="468.29" y="535.21" text-anchor="start">0.34</text>
<text x="212.5" y="571.5" text-anchor="end">0.79</text>
<text x="500.47" y="574.49" text-anchor="start">0.34</text>
<text x="230.4" y="540.5" text-anchor="end">0.85</text>
<text x="484.38" y="558.78" text-anchor="start">0.31</text>
<text x="248.93" y="565.23" text-anchor="end">0.90</text>
<text x="468.29" y="566.63" text-anchor="start">0.28</text>
<text x="232.86" y="588.79" text-anchor="end">0.83</text>
<text x="484.38" y="590.2" text-anchor="start">0.32</text>
<text x="248.93" y="596.64" text-anchor="end">0.97</text>
<text x="468.29" y="598.05" text-anchor="start">0.31</text>
<text x="136.44" y="732.07" text-anchor="end">0.04</text>
<text x="580.92" y="733.51" text-anchor="start">0.43</text>
<text x="168.58" y="647.2" text-anchor="end">0.05</text>
<text x="548.74" y="648.62" text-anchor="start">0.33</text>
<text x="232.86" y="620.2" text-anchor="end">-0.01</text>
<text x="484.38" y="621.62" text-anchor="start">0.26</text>
<text x="248.93" y="628.05" text-anchor="end">0.02</text>
<text x="468.29" y="629.47" text-anchor="start">0.25</text>
<text x="184.65" y="674.19" text-anchor="end">0.11</text>
<text x="532.65" y="675.62" text-anchor="start">0.29</text>
<text x="216.79" y="652.92" text-anchor="end">0.11</text>
<text x="500.47" y="654.34" text-anchor="start">0.28</text>
<text x="232.86" y="662.08" text-anchor="end">0.03</text>
<text x="484.38" y="663.51" text-anchor="start">0.28</text>
<text x="248.93" y="669.94" text-anchor="end">0.03</text>
<text x="468.29" y="671.36" text-anchor="start">0.25</text>
<text x="200.72" y="695.46" text-anchor="end">0.17</text>
<text x="516.56" y="696.89" text-anchor="start">0.27</text>
<text x="216.79" y="705.28" text-anchor="end">0.23</text>
<text x="500.47" y="706.71" text-anchor="start">0.29</text>
<text x="232.86" y="714.44" text-anchor="end">0.15</text>
<text x="484.38" y="715.87" text-anchor="start">0.28</text>
<text x="468.29" y="723.73" text-anchor="start">0.26</text>
<text x="152.51" y="816.94" text-anchor="end">0.02</text>
<text x="564.83" y="818.39" text-anchor="start">0.44</text>
<text x="184.65" y="766.14" text-anchor="end">0.08</text>
<text x="532.65" y="767.58" text-anchor="start">0.39</text>
<text x="232.86" y="745.85" text-anchor="end">0.03</text>
<text x="484.38" y="747.29" text-anchor="start">0.31</text>
<text x="248.93" y="753.71" text-anchor="end">0.05</text>
<text x="468.29" y="755.15" text-anchor="start">0.28</text>
<text x="200.72" y="786.43" text-anchor="end">0.19</text>
<text x="516.56" y="787.87" text-anchor="start">0.42</text>
<text x="216.79" y="803.44" text-anchor="end">0.15</text>
<text x="500.47" y="804.89" text-anchor="start">0.38</text>
<text x="233.7" y="772.6" text-anchor="end">0.08</text>
<text x="485" y="774" text-anchor="start">0.33</text>
<text x="248.93" y="795.59" text-anchor="end">0.02</text>
<text x="468.29" y="797.04" text-anchor="start">0.31</text>
<text x="232.86" y="819.15" text-anchor="end">0.18</text>
<text x="484.38" y="820.6" text-anchor="start">0.38</text>
<text x="248.93" y="827" text-anchor="end">0.10</text>
<text x="468.29" y="828.46" text-anchor="start">0.36</text>
<text x="168.58" y="867.74" text-anchor="end">-0.07</text>
<text x="548.74" y="869.2" text-anchor="start">0.50</text>
<text x="248.93" y="847.94" text-anchor="end">-0.14</text>
<text x="468.29" y="849.4" text-anchor="start">0.58</text>
<text x="184.65" y="887.54" text-anchor="end">-0.08</text>
<text x="532.65" y="889" text-anchor="start">0.48</text>
<text x="200.72" y="911.42" text-anchor="end">0.01</text>
<text x="516.56" y="912.9" text-anchor="start">0.41</text>
<text x="232.86" y="889.83" text-anchor="end">-0.11</text>
<text x="484.38" y="891.3" text-anchor="start">0.44</text>
<text x="247.5" y="864.4" text-anchor="end">-0.12</text>
<text x="468.29" y="880.82" text-anchor="start">0.48</text>
<text x="248.93" y="900.3" text-anchor="end">-0.22</text>
<text x="468.29" y="901.77" text-anchor="start">0.44</text>
<text x="216.79" y="933.02" text-anchor="end">0.21</text>
<text x="500.47" y="934.5" text-anchor="start">0.31</text>
<text x="248.93" y="921.24" text-anchor="end">0.29</text>
<text x="468.29" y="922.71" text-anchor="start">0.28</text>
<text x="232.86" y="944.8" text-anchor="end">0.34</text>
<text x="484.38" y="946.28" text-anchor="start">0.23</text>
<text x="248.93" y="952.65" text-anchor="end">0.38</text>
<text x="468.29" y="954.13" text-anchor="start">0.20</text>
</g>
<g>
<text x="274" y="8.35">0.24</text>
<text x="441.2" y="8.35" text-anchor="end">0.28</text>
<text x="298.35" y="8.35" font-style="italic">Spermophilopsis leptodactylus</text>
<text x="274" y="18.82">0.06</text>
<text x="441.2" y="18.82" text-anchor="end">0.68</text>
<text x="313.73" y="18.82" font-style="italic">Xerus erythropus</text>
<text x="274" y="29.29">-0.11</text>
<text x="441.2" y="29.29" text-anchor="end">0.83</text>
<text x="319.1" y="29.29" font-style="italic">Xerus rutilus</text>
<text x="274" y="39.76">0.09</text>
<text x="441.2" y="39.76" text-anchor="end">0.86</text>
<text x="318.37" y="39.76" font-style="italic">Xerus inauris</text>
<text x="274" y="50.23">0.10</text>
<text x="441.2" y="50.23" text-anchor="end">0.95</text>
<text x="316.19" y="50.23" font-style="italic">Xerus princeps</text>
<text x="274" y="60.7">-0.19</text>
<text x="441.2" y="60.7" text-anchor="end">0.98</text>
<text x="313.29" y="60.7" font-style="italic">Paraxerus cepapi</text>
<text x="274" y="71.17">-0.13</text>
<text x="441.2" y="71.17" text-anchor="end">0.68</text>
<text x="305.31" y="71.17" font-style="italic">Sciurotamias davidianus</text>
<text x="274" y="81.64">-0.44</text>
<text x="441.2" y="81.64" text-anchor="end">0.72</text>
<text x="315.13" y="81.64" font-style="italic">Tamias sibiricus</text>
<text x="274" y="92.11">-0.41</text>
<text x="441.2" y="92.11" text-anchor="end">0.62</text>
<text x="316.15" y="92.11" font-style="italic">Tamias striatus</text>
<text x="274" y="102.58">-0.51</text>
<text x="441.2" y="102.58" text-anchor="end">0.82</text>
<text x="314.41" y="102.58" font-style="italic">Tamias merriami</text>
<text x="274" y="113.05">-0.53</text>
<text x="441.2" y="113.05" text-anchor="end">0.91</text>
<text x="313.97" y="113.05" font-style="italic">Tamias obscurus</text>
<text x="274" y="123.52">-0.61</text>
<text x="441.2" y="123.52" text-anchor="end">0.73</text>
<text x="313.82" y="123.52" font-style="italic">Tamias amoenus</text>
<text x="274" y="133.99">-0.46</text>
<text x="441.2" y="133.99" text-anchor="end">0.74</text>
<text x="311.07" y="133.99" font-style="italic">Tamias ochrogenys</text>
<text x="274" y="144.46">-0.45</text>
<text x="441.2" y="144.46" text-anchor="end">0.72</text>
<text x="317.59" y="144.46" font-style="italic">Tamias senex</text>
<text x="274" y="154.93">-0.51</text>
<text x="441.2" y="154.93" text-anchor="end">0.81</text>
<text x="312.23" y="154.93" font-style="italic">Tamias townsendii</text>
<text x="274" y="165.4">-0.53</text>
<text x="441.2" y="165.4" text-anchor="end">0.73</text>
<text x="315.28" y="165.4" font-style="italic">Tamias siskiyou</text>
<text x="274" y="175.87">-0.51</text>
<text x="441.2" y="175.87" text-anchor="end">0.79</text>
<text x="313.82" y="175.87" font-style="italic">Tamias sonomae</text>
<text x="274" y="186.34">-0.57</text>
<text x="441.2" y="186.34" text-anchor="end">0.81</text>
<text x="312.52" y="186.34" font-style="italic">Tamias ruficaudus</text>
<text x="274" y="196.81">-0.45</text>
<text x="441.2" y="196.81" text-anchor="end">0.68</text>
<text x="305.41" y="196.81" font-style="italic">Tamias quadrimaculatus</text>
<text x="274" y="207.28">-0.65</text>
<text x="441.2" y="207.28" text-anchor="end">0.73</text>
<text x="314.84" y="207.28" font-style="italic">Tamias minimus</text>
<text x="274" y="217.75">-0.54</text>
<text x="441.2" y="217.75" text-anchor="end">0.70</text>
<text x="312.95" y="217.75" font-style="italic">Tamias speciosus</text>
<text x="274" y="228.22">-0.67</text>
<text x="441.2" y="228.22" text-anchor="end">0.67</text>
<text x="316.29" y="228.22" font-style="italic">Tamias alpinus</text>
<text x="274" y="238.69">-0.59</text>
<text x="441.2" y="238.69" text-anchor="end">0.76</text>
<text x="309.04" y="238.69" font-style="italic">Tamias panamintinus</text>
<text x="274" y="249.16">-0.44</text>
<text x="441.2" y="249.16" text-anchor="end">0.73</text>
<text x="313.53" y="249.16" font-style="italic">Tamias durangae</text>
<text x="274" y="259.63">-0.53</text>
<text x="441.2" y="259.63" text-anchor="end">0.78</text>
<text x="315.56" y="259.63" font-style="italic">Tamias canipes</text>
<text x="274" y="270.1">-0.35</text>
<text x="441.2" y="270.1" text-anchor="end">0.65</text>
<text x="317.6" y="270.1" font-style="italic">Tamias bulleri</text>
<text x="274" y="280.57">-0.60</text>
<text x="441.2" y="280.57" text-anchor="end">0.77</text>
<text x="318.76" y="280.57" font-style="italic">Tamias rufus</text>
<text x="274" y="291.04">-0.48</text>
<text x="441.2" y="291.04" text-anchor="end">0.55</text>
<text x="315.57" y="291.04" font-style="italic">Tamias dorsalis</text>
<text x="274" y="301.51">-0.57</text>
<text x="441.2" y="301.51" text-anchor="end">0.74</text>
<text x="309.04" y="301.51" font-style="italic">Tamias quadrivittatus</text>
<text x="274" y="311.98">-0.54</text>
<text x="441.2" y="311.98" text-anchor="end">0.69</text>
<text x="311.07" y="311.98" font-style="italic">Tamias cinereicollis</text>
<text x="274" y="322.45">-0.55</text>
<text x="441.2" y="322.45" text-anchor="end">0.71</text>
<text x="316" y="322.45" font-style="italic">Tamias palmeri</text>
<text x="274" y="332.92">-0.63</text>
<text x="441.2" y="332.92" text-anchor="end">0.78</text>
<text x="313.83" y="332.92" font-style="italic">Tamias umbrinus</text>
<text x="274" y="343.39">-0.31</text>
<text x="441.2" y="343.39" text-anchor="end">0.79</text>
<text x="308.79" y="343.39" font-style="italic">Notocitellus adocetus</text>
<text x="274" y="353.86">0.06</text>
<text x="441.2" y="353.86" text-anchor="end">0.95</text>
<text x="308.07" y="353.86" font-style="italic">Notocitellus annulatus</text>
<text x="274" y="364.33">-0.27</text>
<text x="441.2" y="364.33" text-anchor="end">0.47</text>
<text x="302.13" y="364.33" font-style="italic">Ammospermophilus harrisii</text>
<text x="274" y="374.8">-0.30</text>
<text x="441.2" y="374.8" text-anchor="end">0.49</text>
<text x="299.66" y="374.8" font-style="italic">Ammospermophilus interpres</text>
<text x="274" y="385.27">-0.30</text>
<text x="441.2" y="385.27" text-anchor="end">0.39</text>
<text x="299.95" y="385.27" font-style="italic">Ammospermophilus leucurus</text>
<text x="274" y="395.74">-0.14</text>
<text x="441.2" y="395.74" text-anchor="end">0.53</text>
<text x="300.67" y="395.74" font-style="italic">Callospermophilus saturatus</text>
<text x="274" y="406.21">-0.23</text>
<text x="441.2" y="406.21" text-anchor="end">0.40</text>
<text x="302.41" y="406.21" font-style="italic">Callospermophilus lateralis</text>
<text x="274" y="416.68">-0.06</text>
<text x="441.2" y="416.68" text-anchor="end">0.37</text>
<text x="299.37" y="416.68" font-style="italic">Callospermophilus madrensis</text>
<text x="274" y="427.15">0.17</text>
<text x="441.2" y="427.15" text-anchor="end">0.75</text>
<text x="301.11" y="427.15" font-style="italic">Otospermophilus variegatus</text>
<text x="274" y="437.62">0.10</text>
<text x="441.2" y="437.62" text-anchor="end">0.79</text>
<text x="300.82" y="437.62" font-style="italic">Otospermophilus atricapillus</text>
<text x="274" y="448.09">0.13</text>
<text x="441.2" y="448.09" text-anchor="end">0.67</text>
<text x="302.7" y="448.09" font-style="italic">Otospermophilus beecheyi</text>
<text x="274" y="458.56">0.80</text>
<text x="441.2" y="458.56" text-anchor="end">0.42</text>
<text x="310.25" y="458.56" font-style="italic">Marmota flaviventris</text>
<text x="274" y="469.03">0.51</text>
<text x="441.2" y="469.03" text-anchor="end">0.42</text>
<text x="313.58" y="469.03" font-style="italic">Marmota caligata</text>
<text x="274" y="479.5">0.95</text>
<text x="441.2" y="479.5" text-anchor="end">0.40</text>
<text x="312.86" y="479.5" font-style="italic">Marmota olympus</text>
<text x="274" y="489.97">0.89</text>
<text x="441.2" y="489.97" text-anchor="end">0.44</text>
<text x="304.45" y="489.97" font-style="italic">Marmota vancouverensis</text>
<text x="274" y="500.44">0.83</text>
<text x="441.2" y="500.44" text-anchor="end">0.34</text>
<text x="312.28" y="500.44" font-style="italic">Marmota marmota</text>
<text x="274" y="510.91">0.69</text>
<text x="441.2" y="510.91" text-anchor="end">0.34</text>
<text x="314.02" y="510.91" font-style="italic">Marmota broweri</text>
<text x="274" y="521.38">0.80</text>
<text x="441.2" y="521.38" text-anchor="end">0.46</text>
<text x="313.29" y="521.38" font-style="italic">Marmota caudata</text>
<text x="274" y="531.85">0.74</text>
<text x="441.2" y="531.85" text-anchor="end">0.21</text>
<text x="311.27" y="531.85" font-style="italic">Marmota menzbieri</text>
<text x="274" y="542.32">0.85</text>
<text x="441.2" y="542.32" text-anchor="end">0.32</text>
<text x="314.75" y="542.32" font-style="italic">Marmota monax</text>
<text x="274" y="552.79">1.06</text>
<text x="441.2" y="552.79" text-anchor="end">0.30</text>
<text x="311.41" y="552.79" font-style="italic">Marmota baibacina</text>
<text x="274" y="563.26">0.79</text>
<text x="441.2" y="563.26" text-anchor="end">0.24</text>
<text x="315.47" y="563.26" font-style="italic">Marmota bobak</text>
<text x="274" y="573.73">0.74</text>
<text x="441.2" y="573.73" text-anchor="end">0.32</text>
<text x="307.35" y="573.73" font-style="italic">Marmota camtschatica</text>
<text x="274" y="584.2">0.91</text>
<text x="441.2" y="584.2" text-anchor="end">0.26</text>
<text x="309.23" y="584.2" font-style="italic">Marmota himalayana</text>
<text x="274" y="594.67">1.17</text>
<text x="441.2" y="594.67" text-anchor="end">0.36</text>
<text x="314.46" y="594.67" font-style="italic">Marmota sibirica</text>
<text x="274" y="605.14">-0.08</text>
<text x="441.2" y="605.14" text-anchor="end">0.21</text>
<text x="307.35" y="605.14" font-style="italic">Spermophilus musicus</text>
<text x="274" y="615.61">0.19</text>
<text x="441.2" y="615.61" text-anchor="end">0.31</text>
<text x="310.39" y="615.61" font-style="italic">Spermophilus major</text>
<text x="274" y="626.08">-0.14</text>
<text x="441.2" y="626.08" text-anchor="end">0.18</text>
<text x="304.88" y="626.08" font-style="italic">Spermophilus pygmaeus</text>
<text x="274" y="636.55">0.19</text>
<text x="441.2" y="636.55" text-anchor="end">0.28</text>
<text x="308.94" y="636.55" font-style="italic">Spermophilus citellus</text>
<text x="274" y="647.02">-0.05</text>
<text x="441.2" y="647.02" text-anchor="end">0.31</text>
<text x="307.05" y="647.02" font-style="italic">Spermophilus dauricus</text>
<text x="274" y="657.49">0.02</text>
<text x="441.2" y="657.49" text-anchor="end">0.24</text>
<text x="307.64" y="657.49" font-style="italic">Spermophilus suslicus</text>
<text x="274" y="667.96">0.04</text>
<text x="441.2" y="667.96" text-anchor="end">0.22</text>
<text x="299.08" y="667.96" font-style="italic">Spermophilus xanthoprymnus</text>
<text x="274" y="678.43">0.18</text>
<text x="441.2" y="678.43" text-anchor="end">0.23</text>
<text x="301.83" y="678.43" font-style="italic">Spermophilus erythrogenys</text>
<text x="274" y="688.9">0.37</text>
<text x="441.2" y="688.9" text-anchor="end">0.31</text>
<text x="310.1" y="688.9" font-style="italic">Spermophilus fulvus</text>
<text x="274" y="699.37">0.29</text>
<text x="441.2" y="699.37" text-anchor="end">0.28</text>
<text x="308.65" y="699.37" font-style="italic">Spermophilus relictus</text>
<text x="274" y="709.84">-0.07</text>
<text x="441.2" y="709.84" text-anchor="end">0.31</text>
<text x="303.13" y="709.84" font-style="italic">Spermophilus alashanicus</text>
<text x="277.3" y="720.31">?</text>
<text x="441.2" y="720.31" text-anchor="end">0.20</text>
<text x="303.13" y="720.31" font-style="italic">Spermophilus pallidicauda</text>
<text x="274" y="730.78">-0.03</text>
<text x="441.2" y="730.78" text-anchor="end">0.27</text>
<text x="308.94" y="730.78" font-style="italic">Urocitellus townsendi</text>
<text x="274" y="741.25">0.10</text>
<text x="441.2" y="741.25" text-anchor="end">0.30</text>
<text x="309.81" y="741.25" font-style="italic">Urocitellus brunneus</text>
<text x="274" y="751.72">0.02</text>
<text x="441.2" y="751.72" text-anchor="end">0.23</text>
<text x="306.91" y="751.72" font-style="italic">Urocitellus washingtoni</text>
<text x="274" y="762.19">0.34</text>
<text x="441.2" y="762.19" text-anchor="end">0.49</text>
<text x="309.37" y="762.19" font-style="italic">Urocitellus undulatus</text>
<text x="274" y="772.66">0.08</text>
<text x="441.2" y="772.66" text-anchor="end">0.31</text>
<text x="306.04" y="772.66" font-style="italic">Urocitellus columbianus</text>
<text x="274" y="783.13">0.02</text>
<text x="441.2" y="783.13" text-anchor="end">0.32</text>
<text x="311.26" y="783.13" font-style="italic">Urocitellus armatus</text>
<text x="274" y="793.6">-0.04</text>
<text x="441.2" y="793.6" text-anchor="end">0.27</text>
<text x="311.7" y="793.6" font-style="italic">Urocitellus beldingi</text>
<text x="274" y="804.07">0.28</text>
<text x="441.2" y="804.07" text-anchor="end">0.40</text>
<text x="313.59" y="804.07" font-style="italic">Urocitellus parryii</text>
<text x="274" y="814.54">0.07</text>
<text x="441.2" y="814.54" text-anchor="end">0.35</text>
<text x="311.55" y="814.54" font-style="italic">Urocitellus elegans</text>
<text x="274" y="825.01">0.06</text>
<text x="441.2" y="825.01" text-anchor="end">0.35</text>
<text x="307.35" y="825.01" font-style="italic">Urocitellus richardsonii</text>
<text x="274" y="835.48">-0.25</text>
<text x="441.2" y="835.48" text-anchor="end">0.63</text>
<text x="309.38" y="835.48" font-style="italic">Ictidomys mexicanus</text>
<text x="274" y="845.95">-0.10</text>
<text x="441.2" y="845.95" text-anchor="end">0.62</text>
<text x="302.85" y="845.95" font-style="italic">Ictidomys tridecemlineatus</text>
<text x="274" y="856.42">-0.19</text>
<text x="441.2" y="856.42" text-anchor="end">0.52</text>
<text x="309.52" y="856.42" font-style="italic">Poliocitellus franklinii</text>
<text x="274" y="866.89">-0.02</text>
<text x="441.2" y="866.89" text-anchor="end">0.41</text>
<text x="297.92" y="866.89" font-style="italic">Xerospermophilus mohavensis</text>
<text x="274" y="877.36">-0.22</text>
<text x="441.2" y="877.36" text-anchor="end">0.59</text>
<text x="297.62" y="877.36" font-style="italic">Xerospermophilus tereticaudus</text>
<text x="274" y="887.83">-0.25</text>
<text x="441.2" y="887.83" text-anchor="end">0.40</text>
<text x="299.8" y="887.83" font-style="italic">Xerospermophilus perotensis</text>
<text x="274" y="898.3">-0.31</text>
<text x="441.2" y="898.3" text-anchor="end">0.48</text>
<text x="300.09" y="898.3" font-style="italic">Xerospermophilus spilosoma</text>
<text x="274" y="908.77">0.33</text>
<text x="441.2" y="908.77" text-anchor="end">0.27</text>
<text x="307.64" y="908.77" font-style="italic">Cynomys ludovicianus</text>
<text x="274" y="919.24">0.32</text>
<text x="441.2" y="919.24" text-anchor="end">0.27</text>
<text x="309.52" y="919.24" font-style="italic">Cynomys mexicanus</text>
<text x="274" y="929.71">0.43</text>
<text x="441.2" y="929.71" text-anchor="end">0.17</text>
<text x="310.68" y="929.71" font-style="italic">Cynomys parvidens</text>
<text x="274" y="940.18">0.38</text>
<text x="441.2" y="940.18" text-anchor="end">0.20</text>
<text x="310.83" y="940.18" font-style="italic">Cynomys gunnisoni</text>
<text x="274" y="950.65">0.42</text>
<text x="441.2" y="950.65" text-anchor="end">0.18</text>
<text x="312.13" y="950.65" font-style="italic">Cynomys leucurus</text>
</g>
<rect x="17.4" y="746.5" width="10.8" height="11.6" fill="#1c1c1c"/>
<rect x="18.3" y="747.4" width="9" height="9.8" fill="#0000f5"/>
<text x="29.8" y="757.2">-0.67 to -0.4860</text>
<rect x="17.4" y="761.78" width="10.8" height="11.6" fill="#1c1c1c"/>
<rect x="18.3" y="762.68" width="9" height="9.8" fill="#0a5af8"/>
<text x="29.8" y="772.48">-0.4860 to -0.3020</text>
<rect x="17.4" y="777.06" width="10.8" height="11.6" fill="#1c1c1c"/>
<rect x="18.3" y="777.96" width="9" height="9.8" fill="#14c8ff"/>
<text x="29.8" y="787.76">-0.3020 to -0.118</text>
<rect x="17.4" y="792.34" width="10.8" height="11.6" fill="#1c1c1c"/>
<rect x="18.3" y="793.24" width="9" height="9.8" fill="#00ffd2"/>
<text x="29.8" y="803.04">-0.118 to 0.066</text>
<rect x="17.4" y="807.62" width="10.8" height="11.6" fill="#1c1c1c"/>
<rect x="18.3" y="808.52" width="9" height="9.8" fill="#00ff5f"/>
<text x="29.8" y="818.32">0.066 to 0.25</text>
<rect x="17.4" y="822.9" width="10.8" height="11.6" fill="#1c1c1c"/>
<rect x="18.3" y="823.8" width="9" height="9.8" fill="#00ff00"/>
<text x="29.8" y="833.6">0.25 to 0.4340</text>
<rect x="17.4" y="838.18" width="10.8" height="11.6" fill="#1c1c1c"/>
<rect x="18.3" y="839.08" width="9" height="9.8" fill="#64ff00"/>
<text x="29.8" y="848.88">0.4340 to 0.618</text>
<rect x="17.4" y="853.46" width="10.8" height="11.6" fill="#1c1c1c"/>
<rect x="18.3" y="854.36" width="9" height="9.8" fill="#d2ff00"/>
<text x="29.8" y="864.16">0.618 to 0.802</text>
<rect x="17.4" y="868.74" width="10.8" height="11.6" fill="#1c1c1c"/>
<rect x="18.3" y="869.64" width="9" height="9.8" fill="#ffc800"/>
<text x="29.8" y="879.44">0.802 to 0.986</text>
<rect x="17.4" y="884.02" width="10.8" height="11.6" fill="#1c1c1c"/>
<rect x="18.3" y="884.92" width="9" height="9.8" fill="#c8641e"/>
<text x="29.8" y="894.72">0.986 to 1.17</text>
<rect x="17.4" y="899.3" width="10.8" height="11.6" fill="#1c1c1c"/>
<rect x="18.3" y="900.2" width="9" height="9.8" fill="#b41e0a"/>
<text x="29.8" y="910">1.17 to 1.354</text>
<rect x="609.8" y="748.5" width="10.8" height="11.6" fill="#1c1c1c"/>
<rect x="610.7" y="749.4" width="9" height="9.8" fill="#0000f5"/>
<text x="622.3" y="757">0.17 to 0.251</text>
<rect x="609.8" y="763.74" width="10.8" height="11.6" fill="#1c1c1c"/>
<rect x="610.7" y="764.64" width="9" height="9.8" fill="#0a5af8"/>
<text x="622.3" y="772.24">0.251 to 0.332</text>
<rect x="609.8" y="778.98" width="10.8" height="11.6" fill="#1c1c1c"/>
<rect x="610.7" y="779.88" width="9" height="9.8" fill="#14c8ff"/>
<text x="622.3" y="787.48">0.332 to 0.413</text>
<rect x="609.8" y="794.22" width="10.8" height="11.6" fill="#1c1c1c"/>
<rect x="610.7" y="795.12" width="9" height="9.8" fill="#00ffd2"/>
<text x="622.3" y="802.72">0.413 to 0.494</text>
<rect x="609.8" y="809.46" width="10.8" height="11.6" fill="#1c1c1c"/>
<rect x="610.7" y="810.36" width="9" height="9.8" fill="#00ff5f"/>
<text x="622.3" y="817.96">0.494 to 0.575</text>
<rect x="609.8" y="824.7" width="10.8" height="11.6" fill="#1c1c1c"/>
<rect x="610.7" y="825.6" width="9" height="9.8" fill="#00ff00"/>
<text x="622.3" y="833.2">0.575 to 0.656</text>
<rect x="609.8" y="839.94" width="10.8" height="11.6" fill="#1c1c1c"/>
<rect x="610.7" y="840.84" width="9" height="9.8" fill="#64ff00"/>
<text x="622.3" y="848.44">0.656 to 0.737</text>
<rect x="609.8" y="855.18" width="10.8" height="11.6" fill="#1c1c1c"/>
<rect x="610.7" y="856.08" width="9" height="9.8" fill="#d2ff00"/>
<text x="622.3" y="863.68">0.737 to 0.818</text>
<rect x="609.8" y="870.42" width="10.8" height="11.6" fill="#1c1c1c"/>
<rect x="610.7" y="871.32" width="9" height="9.8" fill="#ffc800"/>
<text x="622.3" y="878.92">0.818 to 0.899</text>
<rect x="609.8" y="885.66" width="10.8" height="11.6" fill="#1c1c1c"/>
<rect x="610.7" y="886.56" width="9" height="9.8" fill="#c8641e"/>
<text x="622.3" y="894.16">0.899 to 0.98</text>
<rect x="609.8" y="900.9" width="10.8" height="11.6" fill="#1c1c1c"/>
<rect x="610.7" y="901.8" width="9" height="9.8" fill="#b41e0a"/>
<text x="622.3" y="909.4">0.98 to 1.061</text>
<text x="41.7" y="585.8" font-size="19" font-weight="bold" fill="#111">A</text>
<text x="652" y="585.8" font-size="19" font-weight="bold" fill="#111">B</text>
</svg>
</body></html>
